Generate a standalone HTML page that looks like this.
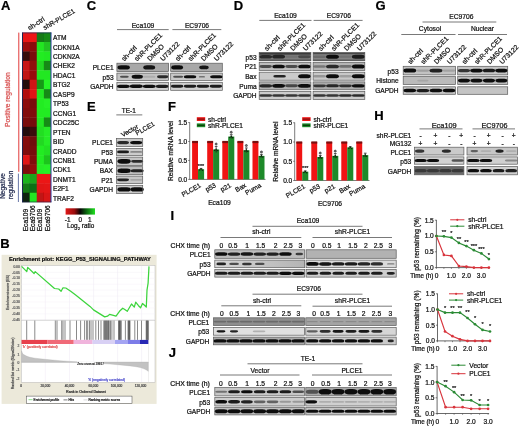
<!DOCTYPE html>
<html><head><meta charset="utf-8"><title>Figure</title>
<style>html,body{margin:0;padding:0;background:#fff;overflow:hidden}
svg{display:block}
svg text{font-family:"Liberation Sans",Arial,sans-serif;stroke-width:0.22px}</style></head>
<body>
<svg width="520" height="426" viewBox="0 0 520 426"><defs><filter id="bl" x="-50%" y="-50%" width="200%" height="200%"><feGaussianBlur stdDeviation="0.55"/></filter><filter id="hb" x="-10%" y="-10%" width="120%" height="120%"><feGaussianBlur stdDeviation="0.7"/></filter></defs><rect width="520" height="426" fill="#fff"/><text x="1" y="10.2" font-size="13" font-weight="bold" fill="#000" stroke="#000" stroke-width="0.15">A</text>
<text x="29.6" y="30.6" font-size="6.9" fill="#111" stroke="#111" stroke-width="0.22" transform="rotate(-33 29.6 30.6)">sh-ctrl</text>
<text x="44.8" y="30" font-size="6.7" fill="#111" stroke="#111" stroke-width="0.22" transform="rotate(-30 44.8 30)">shR-PLCE1</text>
<clipPath id="hc"><rect x="22.5" y="32.6" width="28.5" height="169.6"/></clipPath>
<g clip-path="url(#hc)"><g filter="url(#hb)">
<rect x="20.5" y="30.6" width="9.52" height="11.82" fill="#e81414"/>
<rect x="29.62" y="30.6" width="7.52" height="11.82" fill="#f01414"/>
<rect x="36.75" y="30.6" width="7.52" height="11.82" fill="#127a16"/>
<rect x="43.88" y="30.6" width="9.12" height="11.82" fill="#168a18"/>
<rect x="20.5" y="42.02" width="9.52" height="9.82" fill="#9a1010"/>
<rect x="29.62" y="42.02" width="7.52" height="9.82" fill="#8a0c0c"/>
<rect x="36.75" y="42.02" width="7.52" height="9.82" fill="#22e622"/>
<rect x="43.88" y="42.02" width="9.12" height="9.82" fill="#20c420"/>
<rect x="20.5" y="51.44" width="9.52" height="9.82" fill="#340a0e"/>
<rect x="29.62" y="51.44" width="7.52" height="9.82" fill="#7a0a0a"/>
<rect x="36.75" y="51.44" width="7.52" height="9.82" fill="#22ec22"/>
<rect x="43.88" y="51.44" width="9.12" height="9.82" fill="#24e824"/>
<rect x="20.5" y="60.87" width="9.52" height="9.82" fill="#c81414"/>
<rect x="29.62" y="60.87" width="7.52" height="9.82" fill="#900c0c"/>
<rect x="36.75" y="60.87" width="7.52" height="9.82" fill="#20d820"/>
<rect x="43.88" y="60.87" width="9.12" height="9.82" fill="#148a16"/>
<rect x="20.5" y="70.29" width="9.52" height="9.82" fill="#c01212"/>
<rect x="29.62" y="70.29" width="7.52" height="9.82" fill="#980c0c"/>
<rect x="36.75" y="70.29" width="7.52" height="9.82" fill="#24e824"/>
<rect x="43.88" y="70.29" width="9.12" height="9.82" fill="#24e824"/>
<rect x="20.5" y="79.71" width="9.52" height="9.82" fill="#240808"/>
<rect x="29.62" y="79.71" width="7.52" height="9.82" fill="#d01414"/>
<rect x="36.75" y="79.71" width="7.52" height="9.82" fill="#149a18"/>
<rect x="43.88" y="79.71" width="9.12" height="9.82" fill="#28f428"/>
<rect x="20.5" y="89.13" width="9.52" height="9.82" fill="#b01010"/>
<rect x="29.62" y="89.13" width="7.52" height="9.82" fill="#e01616"/>
<rect x="36.75" y="89.13" width="7.52" height="9.82" fill="#24e824"/>
<rect x="43.88" y="89.13" width="9.12" height="9.82" fill="#128a16"/>
<rect x="20.5" y="98.56" width="9.52" height="9.82" fill="#8c0c0c"/>
<rect x="29.62" y="98.56" width="7.52" height="9.82" fill="#7a0a0a"/>
<rect x="36.75" y="98.56" width="7.52" height="9.82" fill="#22ec22"/>
<rect x="43.88" y="98.56" width="9.12" height="9.82" fill="#26f026"/>
<rect x="20.5" y="107.98" width="9.52" height="9.82" fill="#820c0c"/>
<rect x="29.62" y="107.98" width="7.52" height="9.82" fill="#800c0c"/>
<rect x="36.75" y="107.98" width="7.52" height="9.82" fill="#22ec22"/>
<rect x="43.88" y="107.98" width="9.12" height="9.82" fill="#22ec22"/>
<rect x="20.5" y="117.4" width="9.52" height="9.82" fill="#7a0a0a"/>
<rect x="29.62" y="117.4" width="7.52" height="9.82" fill="#760a0a"/>
<rect x="36.75" y="117.4" width="7.52" height="9.82" fill="#22e622"/>
<rect x="43.88" y="117.4" width="9.12" height="9.82" fill="#148c16"/>
<rect x="20.5" y="126.82" width="9.52" height="9.82" fill="#220808"/>
<rect x="29.62" y="126.82" width="7.52" height="9.82" fill="#3a0a0a"/>
<rect x="36.75" y="126.82" width="7.52" height="9.82" fill="#22de22"/>
<rect x="43.88" y="126.82" width="9.12" height="9.82" fill="#26ec26"/>
<rect x="20.5" y="136.24" width="9.52" height="9.82" fill="#840c0c"/>
<rect x="29.62" y="136.24" width="7.52" height="9.82" fill="#700a0a"/>
<rect x="36.75" y="136.24" width="7.52" height="9.82" fill="#20d820"/>
<rect x="43.88" y="136.24" width="9.12" height="9.82" fill="#26ec26"/>
<rect x="20.5" y="145.67" width="9.52" height="9.82" fill="#800c0c"/>
<rect x="29.62" y="145.67" width="7.52" height="9.82" fill="#780a0a"/>
<rect x="36.75" y="145.67" width="7.52" height="9.82" fill="#22ec22"/>
<rect x="43.88" y="145.67" width="9.12" height="9.82" fill="#22e022"/>
<rect x="20.5" y="155.09" width="9.52" height="9.82" fill="#e01818"/>
<rect x="29.62" y="155.09" width="7.52" height="9.82" fill="#820c0c"/>
<rect x="36.75" y="155.09" width="7.52" height="9.82" fill="#22ec22"/>
<rect x="43.88" y="155.09" width="9.12" height="9.82" fill="#1ec41e"/>
<rect x="20.5" y="164.51" width="9.52" height="9.82" fill="#800c0c"/>
<rect x="29.62" y="164.51" width="7.52" height="9.82" fill="#940c0c"/>
<rect x="36.75" y="164.51" width="7.52" height="9.82" fill="#26ec26"/>
<rect x="43.88" y="164.51" width="9.12" height="9.82" fill="#26f026"/>
<rect x="20.5" y="173.93" width="9.52" height="9.82" fill="#1eb41e"/>
<rect x="29.62" y="173.93" width="7.52" height="9.82" fill="#1aa41a"/>
<rect x="36.75" y="173.93" width="7.52" height="9.82" fill="#ec1414"/>
<rect x="43.88" y="173.93" width="9.12" height="9.82" fill="#ec1414"/>
<rect x="20.5" y="183.36" width="9.52" height="9.82" fill="#127a14"/>
<rect x="29.62" y="183.36" width="7.52" height="9.82" fill="#107014"/>
<rect x="36.75" y="183.36" width="7.52" height="9.82" fill="#e01414"/>
<rect x="43.88" y="183.36" width="9.12" height="9.82" fill="#e41414"/>
<rect x="20.5" y="192.78" width="9.52" height="11.42" fill="#0c200c"/>
<rect x="29.62" y="192.78" width="7.52" height="11.42" fill="#22e622"/>
<rect x="36.75" y="192.78" width="7.52" height="11.42" fill="#c01212"/>
<rect x="43.88" y="192.78" width="9.12" height="11.42" fill="#d81414"/>
</g></g>
<text x="53" y="40.15" font-size="6.6" fill="#111" stroke="#111" stroke-width="0.22">ATM</text>
<text x="53" y="49.6" font-size="6.6" fill="#111" stroke="#111" stroke-width="0.22">CDKN1A</text>
<text x="53" y="59.04" font-size="6.6" fill="#111" stroke="#111" stroke-width="0.22">CDKN2A</text>
<text x="53" y="68.49" font-size="6.6" fill="#111" stroke="#111" stroke-width="0.22">CHEK2</text>
<text x="53" y="77.94" font-size="6.6" fill="#111" stroke="#111" stroke-width="0.22">HDAC1</text>
<text x="53" y="87.38" font-size="6.6" fill="#111" stroke="#111" stroke-width="0.22">BTG2</text>
<text x="53" y="96.83" font-size="6.6" fill="#111" stroke="#111" stroke-width="0.22">CASP9</text>
<text x="53" y="106.28" font-size="6.6" fill="#111" stroke="#111" stroke-width="0.22">TP53</text>
<text x="53" y="115.73" font-size="6.6" fill="#111" stroke="#111" stroke-width="0.22">CCNG1</text>
<text x="53" y="125.17" font-size="6.6" fill="#111" stroke="#111" stroke-width="0.22">CDC25C</text>
<text x="53" y="134.62" font-size="6.6" fill="#111" stroke="#111" stroke-width="0.22">PTEN</text>
<text x="53" y="144.07" font-size="6.6" fill="#111" stroke="#111" stroke-width="0.22">BID</text>
<text x="53" y="153.51" font-size="6.6" fill="#111" stroke="#111" stroke-width="0.22">CRADD</text>
<text x="53" y="162.96" font-size="6.6" fill="#111" stroke="#111" stroke-width="0.22">CCNB1</text>
<text x="53" y="172.41" font-size="6.6" fill="#111" stroke="#111" stroke-width="0.22">CDK1</text>
<text x="53" y="181.85" font-size="6.6" fill="#111" stroke="#111" stroke-width="0.22">DNMT1</text>
<text x="53" y="191.3" font-size="6.6" fill="#111" stroke="#111" stroke-width="0.22">E2F1</text>
<text x="53" y="200.75" font-size="6.6" fill="#111" stroke="#111" stroke-width="0.22">TRAF2</text>
<line x1="22.5" y1="32.6" x2="22.5" y2="202.2" stroke="#1c2450" stroke-width="1"/>
<line x1="22" y1="32.9" x2="51.5" y2="32.9" stroke="#1c2a60" stroke-width="0.7"/>
<line x1="51" y1="32.6" x2="51" y2="202.2" stroke="#24389a" stroke-width="1"/>
<line x1="22" y1="202" x2="51.5" y2="202" stroke="#1c2450" stroke-width="0.6"/>
<line x1="18.8" y1="32.6" x2="18.8" y2="171.8" stroke="#e23a3a" stroke-width="1"/>
<line x1="18.4" y1="173.6" x2="18.4" y2="202" stroke="#6a78a8" stroke-width="1"/>
<text x="9.6" y="99.6" font-size="6.7" text-anchor="middle" fill="#d85252" stroke="#d85252" stroke-width="0.1" transform="rotate(-90 9.6 99.6)">Positive regulation</text>
<text x="5.4" y="186" font-size="6.5" text-anchor="middle" fill="#232c50" stroke="#232c50" stroke-width="0.12" transform="rotate(-90 5.4 186)">Negative</text>
<text x="13" y="185" font-size="6.5" text-anchor="middle" fill="#232c50" stroke="#232c50" stroke-width="0.12" transform="rotate(-90 13 185)">regulation</text>
<text x="27.8" y="231.3" font-size="6.6" fill="#111" stroke="#111" stroke-width="0.22" transform="rotate(-90 27.8 231.3)">Eca109</text>
<text x="35.1" y="231.3" font-size="6.6" fill="#111" stroke="#111" stroke-width="0.22" transform="rotate(-90 35.1 231.3)">Eca9706</text>
<text x="41.8" y="231.3" font-size="6.6" fill="#111" stroke="#111" stroke-width="0.22" transform="rotate(-90 41.8 231.3)">Eca109</text>
<text x="49.9" y="231.3" font-size="6.6" fill="#111" stroke="#111" stroke-width="0.22" transform="rotate(-90 49.9 231.3)">Eca9706</text>
<linearGradient id="lg"><stop offset="0" stop-color="#e01818"/><stop offset="0.3" stop-color="#9a0c0c"/><stop offset="0.5" stop-color="#050505"/><stop offset="0.72" stop-color="#0c6a10"/><stop offset="1" stop-color="#20e020"/></linearGradient>
<rect x="65.6" y="208.3" width="29.4" height="6.3" fill="url(#lg)"/>
<text x="67.6" y="221.6" font-size="6.4" text-anchor="middle" fill="#111" stroke="#111" stroke-width="0.22">-1</text>
<text x="80.3" y="221.6" font-size="6.4" text-anchor="middle" fill="#111" stroke="#111" stroke-width="0.22">0</text>
<text x="89.8" y="221.6" font-size="6.4" text-anchor="middle" fill="#111" stroke="#111" stroke-width="0.22">1</text>
<text x="67" y="228" font-size="6.4" fill="#111" stroke="#111" stroke-width="0.22">Log<tspan font-size="4.2" dy="1.6">2</tspan><tspan dy="-1.6"> ratio</tspan></text>
<text x="0.2" y="247.9" font-size="13" font-weight="bold" fill="#000" stroke="#000" stroke-width="0.15">B</text>
<rect x="1.6" y="254.8" width="155" height="149.1" fill="#ece9da"/>
<text x="8.9" y="260.7" font-size="5.8" font-weight="bold" fill="#111" stroke="#111" stroke-width="0.1" textLength="142" lengthAdjust="spacingAndGlyphs">Enrichment plot: KEGG_P53_SIGNALING_PATHWAY</text>
<rect x="21.3" y="265.5" width="133.7" height="116.8" fill="#ffffff" stroke="#b8b8b8" stroke-width="0.5"/>
<line x1="45.3" y1="265.8" x2="45.3" y2="320" stroke="#eee8f4" stroke-width="0.5"/>
<line x1="45.3" y1="344" x2="45.3" y2="382" stroke="#eee8f4" stroke-width="0.5"/>
<line x1="69.5" y1="265.8" x2="69.5" y2="320" stroke="#eee8f4" stroke-width="0.5"/>
<line x1="69.5" y1="344" x2="69.5" y2="382" stroke="#eee8f4" stroke-width="0.5"/>
<line x1="93.6" y1="265.8" x2="93.6" y2="320" stroke="#eee8f4" stroke-width="0.5"/>
<line x1="93.6" y1="344" x2="93.6" y2="382" stroke="#eee8f4" stroke-width="0.5"/>
<line x1="117.6" y1="265.8" x2="117.6" y2="320" stroke="#eee8f4" stroke-width="0.5"/>
<line x1="117.6" y1="344" x2="117.6" y2="382" stroke="#eee8f4" stroke-width="0.5"/>
<line x1="141.6" y1="265.8" x2="141.6" y2="320" stroke="#eee8f4" stroke-width="0.5"/>
<line x1="141.6" y1="344" x2="141.6" y2="382" stroke="#eee8f4" stroke-width="0.5"/>
<line x1="21.3" y1="272.33" x2="155" y2="272.33" stroke="#f3eef6" stroke-width="0.4"/>
<line x1="21.3" y1="278.26" x2="155" y2="278.26" stroke="#f3eef6" stroke-width="0.4"/>
<line x1="21.3" y1="284.19" x2="155" y2="284.19" stroke="#f3eef6" stroke-width="0.4"/>
<line x1="21.3" y1="290.12" x2="155" y2="290.12" stroke="#f3eef6" stroke-width="0.4"/>
<line x1="21.3" y1="296.05" x2="155" y2="296.05" stroke="#f3eef6" stroke-width="0.4"/>
<line x1="21.3" y1="301.98" x2="155" y2="301.98" stroke="#f3eef6" stroke-width="0.4"/>
<line x1="21.3" y1="307.91" x2="155" y2="307.91" stroke="#f3eef6" stroke-width="0.4"/>
<line x1="21.3" y1="313.84" x2="155" y2="313.84" stroke="#f3eef6" stroke-width="0.4"/>
<line x1="21.3" y1="319.77" x2="155" y2="319.77" stroke="#f3eef6" stroke-width="0.4"/>
<line x1="21.3" y1="320.3" x2="155" y2="320.3" stroke="#b0b0b0" stroke-width="0.5"/>
<line x1="148.5" y1="320.3" x2="148.5" y2="382.3" stroke="#d8d8d8" stroke-width="0.4"/>
<text x="19.8" y="267.6" font-size="3.3" text-anchor="end" fill="#666" stroke="#666" stroke-width="0">0.00</text>
<text x="19.8" y="273.53" font-size="3.3" text-anchor="end" fill="#666" stroke="#666" stroke-width="0">-0.05</text>
<text x="19.8" y="279.46" font-size="3.3" text-anchor="end" fill="#666" stroke="#666" stroke-width="0">-0.10</text>
<text x="19.8" y="285.39" font-size="3.3" text-anchor="end" fill="#666" stroke="#666" stroke-width="0">-0.15</text>
<text x="19.8" y="291.32" font-size="3.3" text-anchor="end" fill="#666" stroke="#666" stroke-width="0">-0.20</text>
<text x="19.8" y="297.25" font-size="3.3" text-anchor="end" fill="#666" stroke="#666" stroke-width="0">-0.25</text>
<text x="19.8" y="303.18" font-size="3.3" text-anchor="end" fill="#666" stroke="#666" stroke-width="0">-0.30</text>
<text x="19.8" y="309.11" font-size="3.3" text-anchor="end" fill="#666" stroke="#666" stroke-width="0">-0.35</text>
<text x="19.8" y="315.04" font-size="3.3" text-anchor="end" fill="#666" stroke="#666" stroke-width="0">-0.40</text>
<text x="19.8" y="320.97" font-size="3.3" text-anchor="end" fill="#666" stroke="#666" stroke-width="0">-0.45</text>
<text x="8.8" y="292.5" font-size="3.5" text-anchor="middle" fill="#555" stroke="#555" stroke-width="0" transform="rotate(-90 8.8 292.5)">Enrichment score (ES)</text>
<polyline points="21.6,266.4 26.8,271.6 27.7,267.4 34.1,273.5 35.2,271.6 54.5,288.5 58.7,289 61.1,291.3 63,287.8 65.8,288 70.7,291.3 76.3,295.5 90,306.4 93.5,309.9 104.7,316.9 107.5,316.2 109.6,314.4 112.5,315.2 116,316.2 119.5,311.3 122.7,308.2 124.4,309.2 127.3,311.3 131.5,304 134.3,307.1 135.7,302.1 138.5,305.7 140.6,307.8 142.5,303.5 144.2,305 146.3,307 147,290.2 148.1,283.1 149,266.4" fill="none" stroke="#3cd43c" stroke-width="1.25" stroke-linejoin="round"/>
<line x1="26.7" y1="320.6" x2="26.7" y2="339.9" stroke="#3a3a3a" stroke-width="0.6"/>
<line x1="34.8" y1="320.6" x2="34.8" y2="339.9" stroke="#3a3a3a" stroke-width="0.6"/>
<line x1="55.3" y1="320.6" x2="55.3" y2="339.9" stroke="#3a3a3a" stroke-width="0.6"/>
<line x1="57" y1="320.6" x2="57" y2="339.9" stroke="#3a3a3a" stroke-width="0.6"/>
<line x1="61.7" y1="320.6" x2="61.7" y2="339.9" stroke="#3a3a3a" stroke-width="0.6"/>
<line x1="63" y1="320.6" x2="63" y2="339.9" stroke="#3a3a3a" stroke-width="0.6"/>
<line x1="65" y1="320.6" x2="65" y2="339.9" stroke="#3a3a3a" stroke-width="0.6"/>
<line x1="70" y1="320.6" x2="70" y2="339.9" stroke="#3a3a3a" stroke-width="0.6"/>
<line x1="76.5" y1="320.6" x2="76.5" y2="339.9" stroke="#3a3a3a" stroke-width="0.6"/>
<line x1="80.6" y1="320.6" x2="80.6" y2="339.9" stroke="#3a3a3a" stroke-width="0.6"/>
<line x1="84.6" y1="320.6" x2="84.6" y2="339.9" stroke="#3a3a3a" stroke-width="0.6"/>
<line x1="86.6" y1="320.6" x2="86.6" y2="339.9" stroke="#3a3a3a" stroke-width="0.6"/>
<line x1="87.7" y1="320.6" x2="87.7" y2="339.9" stroke="#3a3a3a" stroke-width="0.6"/>
<line x1="91" y1="320.6" x2="91" y2="339.9" stroke="#3a3a3a" stroke-width="0.6"/>
<line x1="93" y1="320.6" x2="93" y2="339.9" stroke="#3a3a3a" stroke-width="0.6"/>
<line x1="95.8" y1="320.6" x2="95.8" y2="339.9" stroke="#3a3a3a" stroke-width="0.6"/>
<line x1="98.5" y1="320.6" x2="98.5" y2="339.9" stroke="#3a3a3a" stroke-width="0.6"/>
<line x1="101" y1="320.6" x2="101" y2="339.9" stroke="#3a3a3a" stroke-width="0.6"/>
<line x1="103.8" y1="320.6" x2="103.8" y2="339.9" stroke="#3a3a3a" stroke-width="0.6"/>
<line x1="105.9" y1="320.6" x2="105.9" y2="339.9" stroke="#3a3a3a" stroke-width="0.6"/>
<line x1="106.6" y1="320.6" x2="106.6" y2="339.9" stroke="#3a3a3a" stroke-width="0.6"/>
<line x1="107.3" y1="320.6" x2="107.3" y2="339.9" stroke="#3a3a3a" stroke-width="0.6"/>
<line x1="108" y1="320.6" x2="108" y2="339.9" stroke="#3a3a3a" stroke-width="0.6"/>
<line x1="108.6" y1="320.6" x2="108.6" y2="339.9" stroke="#3a3a3a" stroke-width="0.6"/>
<line x1="109.2" y1="320.6" x2="109.2" y2="339.9" stroke="#3a3a3a" stroke-width="0.6"/>
<line x1="111.9" y1="320.6" x2="111.9" y2="339.9" stroke="#3a3a3a" stroke-width="0.6"/>
<line x1="114" y1="320.6" x2="114" y2="339.9" stroke="#3a3a3a" stroke-width="0.6"/>
<line x1="118.6" y1="320.6" x2="118.6" y2="339.9" stroke="#3a3a3a" stroke-width="0.6"/>
<line x1="119.5" y1="320.6" x2="119.5" y2="339.9" stroke="#3a3a3a" stroke-width="0.6"/>
<line x1="120.4" y1="320.6" x2="120.4" y2="339.9" stroke="#3a3a3a" stroke-width="0.6"/>
<line x1="121.3" y1="320.6" x2="121.3" y2="339.9" stroke="#3a3a3a" stroke-width="0.6"/>
<line x1="125.4" y1="320.6" x2="125.4" y2="339.9" stroke="#3a3a3a" stroke-width="0.6"/>
<line x1="128" y1="320.6" x2="128" y2="339.9" stroke="#3a3a3a" stroke-width="0.6"/>
<line x1="129" y1="320.6" x2="129" y2="339.9" stroke="#3a3a3a" stroke-width="0.6"/>
<line x1="130" y1="320.6" x2="130" y2="339.9" stroke="#3a3a3a" stroke-width="0.6"/>
<line x1="134.8" y1="320.6" x2="134.8" y2="339.9" stroke="#3a3a3a" stroke-width="0.6"/>
<line x1="137.5" y1="320.6" x2="137.5" y2="339.9" stroke="#3a3a3a" stroke-width="0.6"/>
<line x1="141.5" y1="320.6" x2="141.5" y2="339.9" stroke="#3a3a3a" stroke-width="0.6"/>
<line x1="146.2" y1="320.6" x2="146.2" y2="339.9" stroke="#3a3a3a" stroke-width="0.6"/>
<line x1="147.2" y1="320.6" x2="147.2" y2="339.9" stroke="#3a3a3a" stroke-width="0.6"/>
<line x1="148.3" y1="320.6" x2="148.3" y2="339.9" stroke="#3a3a3a" stroke-width="0.6"/>
<line x1="104.6" y1="320.6" x2="104.6" y2="339.9" stroke="#3a3a3a" stroke-width="0.6"/>
<line x1="105.3" y1="320.6" x2="105.3" y2="339.9" stroke="#3a3a3a" stroke-width="0.6"/>
<line x1="110.5" y1="320.6" x2="110.5" y2="339.9" stroke="#3a3a3a" stroke-width="0.6"/>
<line x1="119" y1="320.6" x2="119" y2="339.9" stroke="#3a3a3a" stroke-width="0.6"/>
<line x1="120" y1="320.6" x2="120" y2="339.9" stroke="#3a3a3a" stroke-width="0.6"/>
<line x1="128.6" y1="320.6" x2="128.6" y2="339.9" stroke="#3a3a3a" stroke-width="0.6"/>
<line x1="129.5" y1="320.6" x2="129.5" y2="339.9" stroke="#3a3a3a" stroke-width="0.6"/>
<line x1="146.7" y1="320.6" x2="146.7" y2="339.9" stroke="#3a3a3a" stroke-width="0.6"/>
<line x1="147.7" y1="320.6" x2="147.7" y2="339.9" stroke="#3a3a3a" stroke-width="0.6"/>
<line x1="89.5" y1="320.6" x2="89.5" y2="339.9" stroke="#3a3a3a" stroke-width="0.6"/>
<rect x="21.5" y="339.9" width="26.05" height="4.1" fill="#e8404c"/>
<rect x="47.5" y="339.9" width="26.25" height="4.1" fill="#f06a78"/>
<rect x="73.7" y="339.9" width="18.85" height="4.1" fill="#f0b4dc"/>
<rect x="92.5" y="339.9" width="22.55" height="4.1" fill="#d8d0f4"/>
<rect x="115" y="339.9" width="13.05" height="4.1" fill="#a4a4f2"/>
<rect x="128" y="339.9" width="12.05" height="4.1" fill="#7c7ce8"/>
<rect x="140" y="339.9" width="8.35" height="4.1" fill="#2828b4"/>
<text x="22.7" y="348.2" font-size="3.2" fill="#e05858" stroke="#e05858" stroke-width="0" textLength="35" lengthAdjust="spacingAndGlyphs">'h' (positively correlated)</text>
<polygon points="21.5,362.3 21.5,350.8 22.5,353.3 24,354.8 27,356.3 30,357.3 35,358.2 40,358.8 50,359.8 60,360.7 70,361.4 80,362.1 90,362.8 100,363.4 110,364.1 120,364.9 130,365.9 136,366.7 140,367.5 144,368.8 146.5,370.1 148.3,371.3 148.3,362.3" fill="#c2c2c2" stroke="#aaaaaa" stroke-width="0.3"/>
<line x1="21.5" y1="362.3" x2="148.3" y2="362.3" stroke="#aaa" stroke-width="0.4"/>
<text x="19.3" y="347.4" font-size="3.3" text-anchor="end" fill="#666" stroke="#666" stroke-width="0">2</text>
<text x="19.3" y="355.8" font-size="3.3" text-anchor="end" fill="#666" stroke="#666" stroke-width="0">1</text>
<text x="19.3" y="363.5" font-size="3.3" text-anchor="end" fill="#666" stroke="#666" stroke-width="0">0</text>
<text x="19.3" y="371.2" font-size="3.3" text-anchor="end" fill="#666" stroke="#666" stroke-width="0">-1</text>
<text x="19.3" y="379.7" font-size="3.3" text-anchor="end" fill="#666" stroke="#666" stroke-width="0">-2</text>
<text x="13.6" y="363.5" font-size="3.5" text-anchor="middle" fill="#555" stroke="#555" stroke-width="0" transform="rotate(-90 13.6 363.5)">Ranked list metric (Signal2Noise)</text>
<rect x="77" y="361.4" width="27" height="4" fill="#ffffff"/>
<text x="77.3" y="364.6" font-size="3.2" fill="#333" stroke="#333" stroke-width="0" textLength="26.5" lengthAdjust="spacingAndGlyphs">Zero cross at 19917</text>
<text x="88" y="381.4" font-size="3.2" fill="#5858d0" stroke="#5858d0" stroke-width="0" textLength="37" lengthAdjust="spacingAndGlyphs">'h' (negatively correlated)</text>
<text x="21.1" y="387" font-size="3.2" text-anchor="middle" fill="#555" stroke="#555" stroke-width="0">0</text>
<text x="45.3" y="387" font-size="3.2" text-anchor="middle" fill="#555" stroke="#555" stroke-width="0">20,000</text>
<text x="69.5" y="387" font-size="3.2" text-anchor="middle" fill="#555" stroke="#555" stroke-width="0">40,000</text>
<text x="93.3" y="387" font-size="3.2" text-anchor="middle" fill="#555" stroke="#555" stroke-width="0">60,000</text>
<text x="116.5" y="387" font-size="3.2" text-anchor="middle" fill="#555" stroke="#555" stroke-width="0">100,000</text>
<text x="140.6" y="387" font-size="3.2" text-anchor="middle" fill="#555" stroke="#555" stroke-width="0">120,000</text>
<text x="86" y="392.6" font-size="3.6" text-anchor="middle" fill="#333" stroke="#333" stroke-width="0.03">Rank in Ordered Dataset</text>
<rect x="26.4" y="396.1" width="105.6" height="7.2" fill="#ffffff" stroke="#444" stroke-width="0.5"/>
<line x1="28.5" y1="399.7" x2="32.5" y2="399.7" stroke="#3ad23a" stroke-width="0.6"/>
<text x="33.5" y="401" font-size="3.2" fill="#222" stroke="#222" stroke-width="0.06">Enrichment profile</text>
<line x1="63.5" y1="399.9" x2="67.5" y2="399.9" stroke="#222" stroke-width="0.6"/>
<text x="68.5" y="401.1" font-size="3.2" fill="#222" stroke="#222" stroke-width="0.06">Hits</text>
<line x1="83.5" y1="399.9" x2="87.5" y2="399.9" stroke="#bbb" stroke-width="0.6"/>
<text x="88.5" y="401.1" font-size="3.2" fill="#222" stroke="#222" stroke-width="0.06">Ranking metric scores</text>
<text x="86.75" y="10.2" font-size="13" font-weight="bold" fill="#000" stroke="#000" stroke-width="0.15">C</text>
<text x="143" y="27.7" font-size="6.7" text-anchor="middle" fill="#111" stroke="#111" stroke-width="0.22">Eca109</text>
<text x="197" y="27.7" font-size="6.7" text-anchor="middle" fill="#111" stroke="#111" stroke-width="0.22">EC9706</text>
<line x1="117" y1="29.6" x2="168.7" y2="29.6" stroke="#6a6a6a" stroke-width="0.9"/>
<line x1="172.4" y1="29.6" x2="221.3" y2="29.6" stroke="#6a6a6a" stroke-width="0.9"/>
<text x="124.16" y="61.6" font-size="6.9" fill="#111" stroke="#111" stroke-width="0.22" transform="rotate(-45 124.16 61.6)">sh-ctrl</text>
<text x="137.09" y="61.6" font-size="6.9" fill="#111" stroke="#111" stroke-width="0.22" transform="rotate(-45 137.09 61.6)">shR-PLCE1</text>
<text x="150.01" y="61.6" font-size="6.9" fill="#111" stroke="#111" stroke-width="0.22" transform="rotate(-45 150.01 61.6)">DMSO</text>
<text x="162.94" y="61.6" font-size="6.9" fill="#111" stroke="#111" stroke-width="0.22" transform="rotate(-45 162.94 61.6)">U73122</text>
<text x="177.95" y="61.6" font-size="6.9" fill="#111" stroke="#111" stroke-width="0.22" transform="rotate(-45 177.95 61.6)">sh-ctrl</text>
<text x="190.85" y="61.6" font-size="6.9" fill="#111" stroke="#111" stroke-width="0.22" transform="rotate(-45 190.85 61.6)">shR-PLCE1</text>
<text x="203.75" y="61.6" font-size="6.9" fill="#111" stroke="#111" stroke-width="0.22" transform="rotate(-45 203.75 61.6)">DMSO</text>
<text x="216.65" y="61.6" font-size="6.9" fill="#111" stroke="#111" stroke-width="0.22" transform="rotate(-45 216.65 61.6)">U73122</text>
<text x="113.6" y="70.35" font-size="6.6" text-anchor="end" fill="#111" stroke="#111" stroke-width="0.22">PLCE1</text>
<text x="113.6" y="79.7" font-size="6.6" text-anchor="end" fill="#111" stroke="#111" stroke-width="0.22">p53</text>
<text x="113.6" y="89.25" font-size="6.6" text-anchor="end" fill="#111" stroke="#111" stroke-width="0.22">GAPDH</text>
<rect x="116.9" y="63.2" width="51.7" height="8.4" fill="#a8a8a8"/>
<g filter="url(#bl)">
<rect x="117.43" y="65.31" width="12.46" height="4.18" rx="3.76" ry="2.09" fill="#111111"/>
<rect x="143.28" y="65.34" width="11.87" height="4.11" rx="3.7" ry="2.06" fill="#151515"/>
</g>
<rect x="116.9" y="63.2" width="51.7" height="8.4" fill="none" stroke="#5a5a5a" stroke-width="0.7"/>
<rect x="116.9" y="73.1" width="51.7" height="7.3" fill="#c4c4c4"/>
<g filter="url(#bl)">
<rect x="119.97" y="75.66" width="8.79" height="2.18" rx="1.97" ry="1.09" fill="#4e4e4e"/>
<rect x="131.63" y="74.79" width="11.31" height="3.92" rx="3.53" ry="1.96" fill="#0e0e0e"/>
<rect x="142.93" y="75.85" width="12.56" height="1.79" rx="1.61" ry="0.9" fill="#adadad"/>
<rect x="156.98" y="75.37" width="11.31" height="2.76" rx="2.49" ry="1.38" fill="#2b2b2b"/>
</g>
<rect x="116.9" y="73.1" width="51.7" height="7.3" fill="none" stroke="#5a5a5a" stroke-width="0.7"/>
<rect x="116.9" y="82.3" width="51.7" height="8" fill="#cfcfcf"/>
<g filter="url(#bl)">
<rect x="116.9" y="84.64" width="12.92" height="3.31" rx="2.98" ry="1.66" fill="#111111"/>
<rect x="129.82" y="84.62" width="12.92" height="3.37" rx="3.03" ry="1.68" fill="#0e0e0e"/>
<rect x="142.75" y="84.64" width="12.92" height="3.31" rx="2.98" ry="1.66" fill="#111111"/>
<rect x="155.67" y="84.69" width="12.92" height="3.23" rx="2.91" ry="1.61" fill="#1b1b1b"/>
</g>
<rect x="116.9" y="82.3" width="51.7" height="8" fill="none" stroke="#5a5a5a" stroke-width="0.7"/>
<rect x="170.7" y="63.2" width="51.6" height="8.4" fill="#a8a8a8"/>
<g filter="url(#bl)">
<rect x="171.23" y="65.31" width="11.84" height="4.18" rx="3.76" ry="2.09" fill="#111111"/>
<rect x="199.21" y="65.57" width="9.47" height="3.66" rx="3.3" ry="1.83" fill="#181818"/>
</g>
<rect x="170.7" y="63.2" width="51.6" height="8.4" fill="none" stroke="#5a5a5a" stroke-width="0.7"/>
<rect x="170.7" y="73.1" width="51.6" height="7.3" fill="#c8c8c8"/>
<g filter="url(#bl)">
<rect x="173.13" y="75.76" width="10.03" height="1.99" rx="1.79" ry="0.99" fill="#4f4f4f"/>
<rect x="183.78" y="75.21" width="12.54" height="3.07" rx="2.76" ry="1.54" fill="#0e0e0e"/>
<rect x="198.82" y="75.88" width="6.27" height="1.74" rx="1.56" ry="0.87" fill="#727272"/>
<rect x="210.08" y="75.24" width="12.54" height="3.02" rx="2.72" ry="1.51" fill="#111111"/>
</g>
<rect x="170.7" y="73.1" width="51.6" height="7.3" fill="none" stroke="#5a5a5a" stroke-width="0.7"/>
<rect x="170.7" y="82.3" width="51.6" height="8" fill="#d0d0d0"/>
<g filter="url(#bl)">
<rect x="170.88" y="84.85" width="12.54" height="2.91" rx="2.62" ry="1.45" fill="#1b1b1b"/>
<rect x="183.78" y="84.85" width="12.54" height="2.91" rx="2.62" ry="1.45" fill="#1b1b1b"/>
<rect x="196.68" y="84.85" width="12.54" height="2.91" rx="2.62" ry="1.45" fill="#1b1b1b"/>
<rect x="209.58" y="84.85" width="12.54" height="2.91" rx="2.62" ry="1.45" fill="#1b1b1b"/>
</g>
<rect x="170.7" y="82.3" width="51.6" height="8" fill="none" stroke="#5a5a5a" stroke-width="0.7"/>
<text x="233.85" y="10.2" font-size="13" font-weight="bold" fill="#000" stroke="#000" stroke-width="0.15">D</text>
<text x="285.5" y="18.4" font-size="6.7" text-anchor="middle" fill="#111" stroke="#111" stroke-width="0.22">Eca109</text>
<text x="338.8" y="18.4" font-size="6.7" text-anchor="middle" fill="#111" stroke="#111" stroke-width="0.22">EC9706</text>
<line x1="259.3" y1="20.4" x2="311.5" y2="20.4" stroke="#6a6a6a" stroke-width="0.9"/>
<line x1="313.6" y1="20.4" x2="362.6" y2="20.4" stroke="#6a6a6a" stroke-width="0.9"/>
<text x="267.06" y="51.3" font-size="6.9" fill="#111" stroke="#111" stroke-width="0.22" transform="rotate(-45 267.06 51.3)">sh-ctrl</text>
<text x="279.99" y="51.3" font-size="6.9" fill="#111" stroke="#111" stroke-width="0.22" transform="rotate(-45 279.99 51.3)">shR-PLCE1</text>
<text x="292.91" y="51.3" font-size="6.9" fill="#111" stroke="#111" stroke-width="0.22" transform="rotate(-45 292.91 51.3)">DMSO</text>
<text x="305.84" y="51.3" font-size="6.9" fill="#111" stroke="#111" stroke-width="0.22" transform="rotate(-45 305.84 51.3)">U73122</text>
<text x="320.96" y="51.3" font-size="6.9" fill="#111" stroke="#111" stroke-width="0.22" transform="rotate(-45 320.96 51.3)">sh-ctrl</text>
<text x="333.89" y="51.3" font-size="6.9" fill="#111" stroke="#111" stroke-width="0.22" transform="rotate(-45 333.89 51.3)">shR-PLCE1</text>
<text x="346.81" y="51.3" font-size="6.9" fill="#111" stroke="#111" stroke-width="0.22" transform="rotate(-45 346.81 51.3)">DMSO</text>
<text x="359.74" y="51.3" font-size="6.9" fill="#111" stroke="#111" stroke-width="0.22" transform="rotate(-45 359.74 51.3)">U73122</text>
<text x="256.6" y="59.55" font-size="6.6" text-anchor="end" fill="#111" stroke="#111" stroke-width="0.22">p53</text>
<text x="256.6" y="69.35" font-size="6.6" text-anchor="end" fill="#111" stroke="#111" stroke-width="0.22">P21</text>
<text x="256.6" y="79.05" font-size="6.6" text-anchor="end" fill="#111" stroke="#111" stroke-width="0.22">Bax</text>
<text x="256.6" y="88.7" font-size="6.6" text-anchor="end" fill="#111" stroke="#111" stroke-width="0.22">Puma</text>
<text x="256.6" y="98.3" font-size="6.6" text-anchor="end" fill="#111" stroke="#111" stroke-width="0.22">GAPDH</text>
<rect x="259.2" y="52.6" width="51.7" height="8.2" fill="#7e7e7e"/>
<g filter="url(#bl)">
<rect x="259.2" y="52.6" width="51.7" height="2.05" fill="#3a3a3a"/>
<rect x="259.2" y="59.57" width="51.7" height="1.23" fill="#4a4a4a"/>
<rect x="259.2" y="54.92" width="12.92" height="3.55" rx="3.2" ry="1.78" fill="#2b2b2b"/>
<rect x="272.12" y="54.87" width="12.92" height="3.66" rx="3.29" ry="1.83" fill="#252525"/>
<rect x="285.05" y="55.6" width="12.92" height="2.2" rx="1.98" ry="1.1" fill="#707070"/>
<rect x="297.98" y="55.24" width="12.92" height="2.93" rx="2.63" ry="1.46" fill="#4a4a4a"/>
</g>
<rect x="259.2" y="52.6" width="51.7" height="8.2" fill="none" stroke="#5a5a5a" stroke-width="0.7"/>
<rect x="259.2" y="62.5" width="51.7" height="8" fill="#bcbcbc"/>
<g filter="url(#bl)">
<rect x="259.38" y="65" width="12.56" height="2.99" rx="2.69" ry="1.5" fill="#4b4b4b"/>
<rect x="272.31" y="64.63" width="12.56" height="3.74" rx="3.37" ry="1.87" fill="#0e0e0e"/>
<rect x="285.23" y="65" width="12.56" height="2.99" rx="2.69" ry="1.5" fill="#4b4b4b"/>
<rect x="298.16" y="64.63" width="12.56" height="3.74" rx="3.37" ry="1.87" fill="#0e0e0e"/>
</g>
<rect x="259.2" y="62.5" width="51.7" height="8" fill="none" stroke="#5a5a5a" stroke-width="0.7"/>
<rect x="259.2" y="72.2" width="51.7" height="8" fill="#cacaca"/>
<g filter="url(#bl)">
<rect x="273.31" y="74.88" width="12.56" height="2.64" rx="2.38" ry="1.32" fill="#232323"/>
<rect x="298.16" y="74.16" width="12.56" height="4.08" rx="3.67" ry="2.04" fill="#0e0e0e"/>
</g>
<rect x="259.2" y="72.2" width="51.7" height="8" fill="none" stroke="#5a5a5a" stroke-width="0.7"/>
<rect x="259.2" y="81.9" width="51.7" height="7.9" fill="#b0b0b0"/>
<g filter="url(#bl)">
<rect x="259.2" y="84.19" width="12.92" height="3.32" rx="2.99" ry="1.66" fill="#282828"/>
<rect x="272.12" y="84.05" width="12.92" height="3.6" rx="3.24" ry="1.8" fill="#111111"/>
<rect x="285.05" y="84.37" width="12.92" height="2.95" rx="2.66" ry="1.48" fill="#474747"/>
<rect x="297.98" y="84" width="12.92" height="3.69" rx="3.32" ry="1.85" fill="#0e0e0e"/>
</g>
<rect x="259.2" y="81.9" width="51.7" height="7.9" fill="none" stroke="#5a5a5a" stroke-width="0.7"/>
<rect x="259.2" y="91.4" width="51.7" height="8.1" fill="#cccccc"/>
<g filter="url(#bl)">
<rect x="259.2" y="94.18" width="12.92" height="2.53" rx="2.28" ry="1.27" fill="#353535"/>
<rect x="272.12" y="94.18" width="12.92" height="2.53" rx="2.28" ry="1.27" fill="#353535"/>
<rect x="285.05" y="94.18" width="12.92" height="2.53" rx="2.28" ry="1.27" fill="#353535"/>
<rect x="297.98" y="94.18" width="12.92" height="2.53" rx="2.28" ry="1.27" fill="#353535"/>
</g>
<rect x="259.2" y="91.4" width="51.7" height="8.1" fill="none" stroke="#5a5a5a" stroke-width="0.7"/>
<rect x="313.1" y="52.6" width="51.7" height="8.2" fill="#848484"/>
<g filter="url(#bl)">
<rect x="313.1" y="52.6" width="51.7" height="1.64" fill="#4a4a4a"/>
<rect x="313.1" y="59.57" width="51.7" height="1.23" fill="#555555"/>
<rect x="313.1" y="55.5" width="12.92" height="2.4" rx="2.16" ry="1.2" fill="#6a6a6a"/>
<rect x="326.03" y="54.66" width="12.92" height="4.08" rx="3.67" ry="2.04" fill="#101010"/>
<rect x="338.95" y="55.55" width="12.92" height="2.3" rx="2.07" ry="1.15" fill="#6f6f6f"/>
<rect x="351.88" y="54.77" width="12.92" height="3.87" rx="3.48" ry="1.93" fill="#1b1b1b"/>
</g>
<rect x="313.1" y="52.6" width="51.7" height="8.2" fill="none" stroke="#5a5a5a" stroke-width="0.7"/>
<rect x="313.1" y="62.5" width="51.7" height="8" fill="#b4b4b4"/>
<g filter="url(#bl)">
<rect x="313.1" y="65.17" width="12.92" height="2.65" rx="2.39" ry="1.33" fill="#777777"/>
<rect x="326.03" y="64.66" width="12.92" height="3.67" rx="3.3" ry="1.84" fill="#292929"/>
<rect x="338.95" y="65.12" width="12.92" height="2.75" rx="2.48" ry="1.38" fill="#707070"/>
<rect x="351.88" y="64.46" width="12.92" height="4.08" rx="3.67" ry="2.04" fill="#0e0e0e"/>
</g>
<rect x="313.1" y="62.5" width="51.7" height="8" fill="none" stroke="#5a5a5a" stroke-width="0.7"/>
<rect x="313.1" y="72.2" width="51.7" height="8" fill="#c8c8c8"/>
<g filter="url(#bl)">
<rect x="313.1" y="74.98" width="12.92" height="2.45" rx="2.2" ry="1.22" fill="#969696"/>
<rect x="326.03" y="74.16" width="12.92" height="4.08" rx="3.67" ry="2.04" fill="#0e0e0e"/>
<rect x="338.95" y="75.03" width="12.92" height="2.35" rx="2.11" ry="1.17" fill="#9f9f9f"/>
<rect x="351.88" y="74.16" width="12.92" height="4.08" rx="3.67" ry="2.04" fill="#0e0e0e"/>
</g>
<rect x="313.1" y="72.2" width="51.7" height="8" fill="none" stroke="#5a5a5a" stroke-width="0.7"/>
<rect x="313.1" y="81.9" width="51.7" height="7.9" fill="#aaaaaa"/>
<g filter="url(#bl)">
<rect x="313.1" y="84.42" width="12.92" height="2.85" rx="2.57" ry="1.43" fill="#363636"/>
<rect x="326.03" y="84.34" width="12.92" height="3.02" rx="2.72" ry="1.51" fill="#272727"/>
<rect x="338.95" y="84.38" width="12.92" height="2.94" rx="2.64" ry="1.47" fill="#2e2e2e"/>
<rect x="351.88" y="84.21" width="12.92" height="3.27" rx="2.95" ry="1.64" fill="#111111"/>
</g>
<rect x="313.1" y="81.9" width="51.7" height="7.9" fill="none" stroke="#5a5a5a" stroke-width="0.7"/>
<rect x="313.1" y="91.4" width="51.7" height="8.1" fill="#cacaca"/>
<g filter="url(#bl)">
<rect x="313.1" y="94.18" width="12.92" height="2.53" rx="2.28" ry="1.27" fill="#353535"/>
<rect x="326.03" y="94.18" width="12.92" height="2.53" rx="2.28" ry="1.27" fill="#353535"/>
<rect x="338.95" y="94.15" width="12.92" height="2.6" rx="2.34" ry="1.3" fill="#2c2c2c"/>
<rect x="351.88" y="94.15" width="12.92" height="2.6" rx="2.34" ry="1.3" fill="#2c2c2c"/>
</g>
<rect x="313.1" y="91.4" width="51.7" height="8.1" fill="none" stroke="#5a5a5a" stroke-width="0.7"/>
<text x="375.45" y="10.3" font-size="13" font-weight="bold" fill="#000" stroke="#000" stroke-width="0.15">G</text>
<text x="461.3" y="18.8" font-size="6.7" text-anchor="middle" fill="#111" stroke="#111" stroke-width="0.22">EC9706</text>
<line x1="422.5" y1="22" x2="496.3" y2="22" stroke="#6a6a6a" stroke-width="0.9"/>
<text x="430" y="31.3" font-size="6.7" text-anchor="middle" fill="#111" stroke="#111" stroke-width="0.22">Cytosol</text>
<text x="482.5" y="31.3" font-size="6.7" text-anchor="middle" fill="#111" stroke="#111" stroke-width="0.22">Nuclear</text>
<line x1="401.3" y1="34.5" x2="455.5" y2="34.5" stroke="#6a6a6a" stroke-width="0.9"/>
<line x1="458" y1="34.5" x2="507" y2="34.5" stroke="#6a6a6a" stroke-width="0.9"/>
<text x="410.45" y="64.5" font-size="6.8" fill="#111" stroke="#111" stroke-width="0.22" transform="rotate(-45 410.45 64.5)">sh-ctrl</text>
<text x="423.55" y="64.5" font-size="6.8" fill="#111" stroke="#111" stroke-width="0.22" transform="rotate(-45 423.55 64.5)">shR-PLCE1</text>
<text x="436.65" y="64.5" font-size="6.8" fill="#111" stroke="#111" stroke-width="0.22" transform="rotate(-45 436.65 64.5)">DMSO</text>
<text x="449.75" y="64.5" font-size="6.8" fill="#111" stroke="#111" stroke-width="0.22" transform="rotate(-45 449.75 64.5)">U73122</text>
<text x="464.65" y="64.5" font-size="6.8" fill="#111" stroke="#111" stroke-width="0.22" transform="rotate(-45 464.65 64.5)">sh-ctrl</text>
<text x="477.15" y="64.5" font-size="6.8" fill="#111" stroke="#111" stroke-width="0.22" transform="rotate(-45 477.15 64.5)">shR-PLCE1</text>
<text x="489.65" y="64.5" font-size="6.8" fill="#111" stroke="#111" stroke-width="0.22" transform="rotate(-45 489.65 64.5)">DMSO</text>
<text x="502.15" y="64.5" font-size="6.8" fill="#111" stroke="#111" stroke-width="0.22" transform="rotate(-45 502.15 64.5)">U73122</text>
<text x="398.6" y="74.35" font-size="6.6" text-anchor="end" fill="#111" stroke="#111" stroke-width="0.22">p53</text>
<text x="398.6" y="83.35" font-size="6.6" text-anchor="end" fill="#111" stroke="#111" stroke-width="0.22">Histone</text>
<text x="398.6" y="93.3" font-size="6.6" text-anchor="end" fill="#111" stroke="#111" stroke-width="0.22">GAPDH</text>
<rect x="403.2" y="66.3" width="52.4" height="8.6" fill="#c2c2c2"/>
<g filter="url(#bl)">
<rect x="403.2" y="68.59" width="13.1" height="4.02" rx="3.62" ry="2.01" fill="#0e0e0e"/>
<rect x="416.3" y="69.47" width="13.1" height="2.25" rx="2.03" ry="1.13" fill="#9f9f9f"/>
<rect x="429.4" y="68.74" width="13.1" height="3.72" rx="3.35" ry="1.86" fill="#222222"/>
<rect x="442.5" y="69.49" width="13.1" height="2.21" rx="1.99" ry="1.11" fill="#a2a2a2"/>
</g>
<rect x="403.2" y="66.3" width="52.4" height="8.6" fill="none" stroke="#5a5a5a" stroke-width="0.7"/>
<rect x="403.2" y="76.6" width="52.4" height="8" fill="#bababa"/>
<g filter="url(#bl)">
<rect x="417.19" y="79.72" width="11.32" height="1.77" rx="1.59" ry="0.88" fill="#a6a6a6"/>
</g>
<rect x="403.2" y="76.6" width="52.4" height="8" fill="none" stroke="#5a5a5a" stroke-width="0.7"/>
<rect x="403.2" y="86.8" width="52.4" height="7.5" fill="#c4c4c4"/>
<g filter="url(#bl)">
<rect x="403.38" y="88.84" width="12.73" height="3.42" rx="3.08" ry="1.71" fill="#111111"/>
<rect x="416.48" y="88.88" width="12.73" height="3.33" rx="3" ry="1.67" fill="#1a1a1a"/>
<rect x="429.58" y="88.84" width="12.73" height="3.42" rx="3.08" ry="1.71" fill="#111111"/>
<rect x="442.68" y="88.84" width="12.73" height="3.42" rx="3.08" ry="1.71" fill="#111111"/>
</g>
<rect x="403.2" y="86.8" width="52.4" height="7.5" fill="none" stroke="#5a5a5a" stroke-width="0.7"/>
<rect x="457.7" y="66.3" width="50" height="8.6" fill="#c4c4c4"/>
<g filter="url(#bl)">
<rect x="457.7" y="69" width="12.5" height="3.2" rx="2.88" ry="1.6" fill="#343434"/>
<rect x="470.2" y="68.82" width="12.5" height="3.56" rx="3.21" ry="1.78" fill="#111111"/>
<rect x="482.7" y="68.86" width="12.5" height="3.47" rx="3.13" ry="1.74" fill="#1a1a1a"/>
<rect x="495.2" y="68.77" width="12.5" height="3.66" rx="3.29" ry="1.83" fill="#0e0e0e"/>
</g>
<rect x="457.7" y="66.3" width="50" height="8.6" fill="none" stroke="#5a5a5a" stroke-width="0.7"/>
<rect x="457.7" y="76.6" width="50" height="8" fill="#bcbcbc"/>
<g filter="url(#bl)">
<rect x="457.88" y="78.78" width="12.15" height="3.65" rx="3.28" ry="1.82" fill="#111111"/>
<rect x="470.38" y="78.78" width="12.15" height="3.65" rx="3.28" ry="1.82" fill="#111111"/>
<rect x="482.88" y="78.78" width="12.15" height="3.65" rx="3.28" ry="1.82" fill="#111111"/>
<rect x="495.38" y="78.78" width="12.15" height="3.65" rx="3.28" ry="1.82" fill="#111111"/>
</g>
<rect x="457.7" y="76.6" width="50" height="8" fill="none" stroke="#5a5a5a" stroke-width="0.7"/>
<rect x="457.7" y="86.8" width="50" height="7.5" fill="#c4c4c4"/>
<g filter="url(#bl)">
</g>
<rect x="457.7" y="86.8" width="50" height="7.5" fill="none" stroke="#5a5a5a" stroke-width="0.7"/>
<text x="87.05" y="110.8" font-size="13" font-weight="bold" fill="#000" stroke="#000" stroke-width="0.15">E</text>
<text x="128.8" y="112.7" font-size="6.5" text-anchor="middle" fill="#111" stroke="#111" stroke-width="0.22">TE-1</text>
<line x1="116.3" y1="114.9" x2="142.3" y2="114.9" stroke="#6a6a6a" stroke-width="0.9"/>
<text x="122.7" y="137.3" font-size="6.6" fill="#111" stroke="#111" stroke-width="0.22" transform="rotate(-30 122.7 137.3)">Vector</text>
<text x="137.1" y="135.6" font-size="6.6" fill="#111" stroke="#111" stroke-width="0.22" transform="rotate(-30 137.1 135.6)">PLCE1</text>
<text x="113" y="145.35" font-size="6.6" text-anchor="end" fill="#111" stroke="#111" stroke-width="0.22">PLCE1</text>
<text x="113" y="154.65" font-size="6.6" text-anchor="end" fill="#111" stroke="#111" stroke-width="0.22">P53</text>
<text x="113" y="164.1" font-size="6.6" text-anchor="end" fill="#111" stroke="#111" stroke-width="0.22">PUMA</text>
<text x="113" y="173.45" font-size="6.6" text-anchor="end" fill="#111" stroke="#111" stroke-width="0.22">BAX</text>
<text x="113" y="182.6" font-size="6.6" text-anchor="end" fill="#111" stroke="#111" stroke-width="0.22">P21</text>
<text x="113" y="192.15" font-size="6.6" text-anchor="end" fill="#111" stroke="#111" stroke-width="0.22">GAPDH</text>
<rect x="116.5" y="138.6" width="26.2" height="8" fill="#cacaca"/>
<g filter="url(#bl)">
<rect x="117.04" y="141.07" width="12.03" height="3.06" rx="2.75" ry="1.53" fill="#2c2c2c"/>
<rect x="130.14" y="140.94" width="12.03" height="3.31" rx="2.98" ry="1.66" fill="#111111"/>
</g>
<rect x="116.5" y="138.6" width="26.2" height="8" fill="none" stroke="#5a5a5a" stroke-width="0.7"/>
<rect x="116.5" y="148.4" width="26.2" height="7" fill="#cccccc"/>
<g filter="url(#bl)">
<rect x="117.04" y="150.49" width="12.03" height="2.83" rx="2.54" ry="1.41" fill="#1a1a1a"/>
<rect x="130.14" y="150.93" width="12.03" height="1.93" rx="1.74" ry="0.97" fill="#878787"/>
</g>
<rect x="116.5" y="148.4" width="26.2" height="7" fill="none" stroke="#5a5a5a" stroke-width="0.7"/>
<rect x="116.5" y="157.1" width="26.2" height="8.5" fill="#c4c4c4"/>
<g filter="url(#bl)">
<rect x="117.44" y="159" width="13.23" height="4.7" rx="4.23" ry="2.35" fill="#0e0e0e"/>
<rect x="131.14" y="160.05" width="12.03" height="2.6" rx="2.34" ry="1.3" fill="#2b2b2b"/>
</g>
<rect x="116.5" y="157.1" width="26.2" height="8.5" fill="none" stroke="#5a5a5a" stroke-width="0.7"/>
<rect x="116.5" y="166.7" width="26.2" height="8" fill="#bebebe"/>
<g filter="url(#bl)">
<rect x="117.44" y="168.49" width="13.23" height="4.42" rx="3.98" ry="2.21" fill="#0e0e0e"/>
<rect x="130.54" y="169.13" width="13.23" height="3.15" rx="2.83" ry="1.57" fill="#222222"/>
</g>
<rect x="116.5" y="166.7" width="26.2" height="8" fill="none" stroke="#5a5a5a" stroke-width="0.7"/>
<rect x="116.5" y="176.1" width="26.2" height="7.5" fill="#c6c6c6"/>
<g filter="url(#bl)">
<rect x="117.04" y="178.38" width="12.03" height="2.95" rx="2.65" ry="1.47" fill="#232323"/>
<rect x="130.14" y="178.97" width="12.03" height="1.75" rx="1.58" ry="0.88" fill="#a6a6a6"/>
</g>
<rect x="116.5" y="176.1" width="26.2" height="7.5" fill="none" stroke="#5a5a5a" stroke-width="0.7"/>
<rect x="116.5" y="185.3" width="26.2" height="8.2" fill="#c8c8c8"/>
<g filter="url(#bl)">
<rect x="117.44" y="187.31" width="13.23" height="4.18" rx="3.76" ry="2.09" fill="#0e0e0e"/>
<rect x="130.54" y="187.31" width="13.23" height="4.18" rx="3.76" ry="2.09" fill="#0e0e0e"/>
</g>
<rect x="116.5" y="185.3" width="26.2" height="8.2" fill="none" stroke="#5a5a5a" stroke-width="0.7"/>
<text x="374.25" y="119.7" font-size="13" font-weight="bold" fill="#000" stroke="#000" stroke-width="0.15">H</text>
<text x="444.2" y="127.7" font-size="7.4" text-anchor="middle" fill="#111" stroke="#111" stroke-width="0.22">Eca109</text>
<text x="494.5" y="127.7" font-size="7.2" text-anchor="middle" fill="#111" stroke="#111" stroke-width="0.22">EC9706</text>
<line x1="419.5" y1="128.9" x2="462.5" y2="128.9" stroke="#6a6a6a" stroke-width="0.9"/>
<line x1="472.5" y1="128.9" x2="515" y2="128.9" stroke="#6a6a6a" stroke-width="0.9"/>
<text x="411.3" y="137.6" font-size="6.6" text-anchor="end" fill="#111" stroke="#111" stroke-width="0.22">shR-PLCE1</text>
<text x="411.3" y="145.6" font-size="6.6" text-anchor="end" fill="#111" stroke="#111" stroke-width="0.22">MG132</text>
<text x="420.5" y="137.8" font-size="6.6" text-anchor="middle" fill="#111" stroke="#111" stroke-width="0.22">-</text>
<text x="420.5" y="145.8" font-size="6.6" text-anchor="middle" fill="#111" stroke="#111" stroke-width="0.22">+</text>
<text x="435.5" y="137.8" font-size="6.6" text-anchor="middle" fill="#111" stroke="#111" stroke-width="0.22">+</text>
<text x="435.5" y="145.8" font-size="6.6" text-anchor="middle" fill="#111" stroke="#111" stroke-width="0.22">+</text>
<text x="449.3" y="137.8" font-size="6.6" text-anchor="middle" fill="#111" stroke="#111" stroke-width="0.22">-</text>
<text x="449.3" y="145.8" font-size="6.6" text-anchor="middle" fill="#111" stroke="#111" stroke-width="0.22">-</text>
<text x="461.3" y="137.8" font-size="6.6" text-anchor="middle" fill="#111" stroke="#111" stroke-width="0.22">+</text>
<text x="461.3" y="145.8" font-size="6.6" text-anchor="middle" fill="#111" stroke="#111" stroke-width="0.22">-</text>
<text x="474.5" y="137.8" font-size="6.6" text-anchor="middle" fill="#111" stroke="#111" stroke-width="0.22">-</text>
<text x="474.5" y="145.8" font-size="6.6" text-anchor="middle" fill="#111" stroke="#111" stroke-width="0.22">+</text>
<text x="488.8" y="137.8" font-size="6.6" text-anchor="middle" fill="#111" stroke="#111" stroke-width="0.22">+</text>
<text x="488.8" y="145.8" font-size="6.6" text-anchor="middle" fill="#111" stroke="#111" stroke-width="0.22">+</text>
<text x="502.5" y="137.8" font-size="6.6" text-anchor="middle" fill="#111" stroke="#111" stroke-width="0.22">-</text>
<text x="502.5" y="145.8" font-size="6.6" text-anchor="middle" fill="#111" stroke="#111" stroke-width="0.22">-</text>
<text x="513.8" y="137.8" font-size="6.6" text-anchor="middle" fill="#111" stroke="#111" stroke-width="0.22">+</text>
<text x="513.8" y="145.8" font-size="6.6" text-anchor="middle" fill="#111" stroke="#111" stroke-width="0.22">-</text>
<text x="411.3" y="154.85" font-size="6.6" text-anchor="end" fill="#111" stroke="#111" stroke-width="0.22">PLCE1</text>
<text x="411.3" y="164.3" font-size="6.6" text-anchor="end" fill="#111" stroke="#111" stroke-width="0.22">p53</text>
<text x="411.3" y="174.4" font-size="6.6" text-anchor="end" fill="#111" stroke="#111" stroke-width="0.22">GAPDH</text>
<rect x="414.5" y="147.2" width="49.4" height="7.8" fill="#cacaca"/>
<g filter="url(#bl)">
<rect x="414.87" y="149.5" width="9.6" height="3.19" rx="2.87" ry="1.6" fill="#353535"/>
<rect x="441.84" y="149.46" width="9.07" height="3.28" rx="2.95" ry="1.64" fill="#2c2c2c"/>
</g>
<rect x="414.5" y="147.2" width="49.4" height="7.8" fill="none" stroke="#5a5a5a" stroke-width="0.7"/>
<rect x="414.5" y="156.9" width="49.4" height="7.3" fill="#d2d2d2"/>
<g filter="url(#bl)">
<rect x="414.5" y="159" width="12.35" height="3.1" rx="2.79" ry="1.55" fill="#0e0e0e"/>
<rect x="426.85" y="159" width="12.35" height="3.1" rx="2.79" ry="1.55" fill="#0e0e0e"/>
<rect x="451.55" y="159.31" width="12.35" height="2.48" rx="2.23" ry="1.24" fill="#535353"/>
</g>
<rect x="414.5" y="156.9" width="49.4" height="7.3" fill="none" stroke="#5a5a5a" stroke-width="0.7"/>
<rect x="414.5" y="166.5" width="49.4" height="8.3" fill="#6a6a6a"/>
<g filter="url(#bl)">
<rect x="414.5" y="169.06" width="12.35" height="3.17" rx="2.86" ry="1.59" fill="#373737"/>
<rect x="426.85" y="169.06" width="12.35" height="3.17" rx="2.86" ry="1.59" fill="#373737"/>
<rect x="439.2" y="169.06" width="12.35" height="3.17" rx="2.86" ry="1.59" fill="#373737"/>
<rect x="451.55" y="169.06" width="12.35" height="3.17" rx="2.86" ry="1.59" fill="#373737"/>
</g>
<rect x="414.5" y="166.5" width="49.4" height="8.3" fill="none" stroke="#5a5a5a" stroke-width="0.7"/>
<rect x="467" y="147.2" width="50.5" height="7.8" fill="#c6c6c6"/>
<g filter="url(#bl)">
<rect x="470.49" y="150.01" width="7.64" height="2.19" rx="1.97" ry="1.09" fill="#606060"/>
<rect x="480.48" y="150.14" width="10.91" height="1.91" rx="1.72" ry="0.96" fill="#afafaf"/>
<rect x="495.47" y="149.41" width="8.18" height="3.37" rx="3.04" ry="1.69" fill="#232323"/>
<rect x="505.73" y="150.14" width="10.91" height="1.91" rx="1.72" ry="0.96" fill="#afafaf"/>
</g>
<rect x="467" y="147.2" width="50.5" height="7.8" fill="none" stroke="#5a5a5a" stroke-width="0.7"/>
<rect x="467" y="156.9" width="50.5" height="7.3" fill="#d0d0d0"/>
<g filter="url(#bl)">
<rect x="467" y="159" width="12.62" height="3.1" rx="2.79" ry="1.55" fill="#0e0e0e"/>
<rect x="479.62" y="159" width="12.62" height="3.1" rx="2.79" ry="1.55" fill="#0e0e0e"/>
<rect x="504.88" y="159.54" width="12.62" height="2.02" rx="1.81" ry="1.01" fill="#898989"/>
</g>
<rect x="467" y="156.9" width="50.5" height="7.3" fill="none" stroke="#5a5a5a" stroke-width="0.7"/>
<rect x="467" y="166.5" width="50.5" height="8.3" fill="#d0d0d0"/>
<g filter="url(#bl)">
<rect x="467.52" y="168.93" width="11.59" height="3.44" rx="3.1" ry="1.72" fill="#111111"/>
<rect x="480.14" y="168.93" width="11.59" height="3.44" rx="3.1" ry="1.72" fill="#111111"/>
<rect x="492.77" y="168.97" width="11.59" height="3.35" rx="3.02" ry="1.68" fill="#1b1b1b"/>
<rect x="505.39" y="169.02" width="11.59" height="3.26" rx="2.94" ry="1.63" fill="#242424"/>
</g>
<rect x="467" y="166.5" width="50.5" height="8.3" fill="none" stroke="#5a5a5a" stroke-width="0.7"/>
<text x="168.05" y="110.8" font-size="13" font-weight="bold" fill="#000" stroke="#000" stroke-width="0.15">F</text>
<line x1="189.7" y1="122.25" x2="189.7" y2="179.7" stroke="#444" stroke-width="0.7"/>
<line x1="189.7" y1="179.4" x2="265.5" y2="179.4" stroke="#444" stroke-width="0.7"/>
<line x1="188.2" y1="179.4" x2="189.7" y2="179.4" stroke="#444" stroke-width="0.7"/>
<text x="187.3" y="181.8" font-size="6.6" text-anchor="end" fill="#111" stroke="#111" stroke-width="0.22">0.0</text>
<line x1="188.2" y1="160.45" x2="189.7" y2="160.45" stroke="#444" stroke-width="0.7"/>
<text x="187.3" y="162.85" font-size="6.6" text-anchor="end" fill="#111" stroke="#111" stroke-width="0.22">0.5</text>
<line x1="188.2" y1="141.5" x2="189.7" y2="141.5" stroke="#444" stroke-width="0.7"/>
<text x="187.3" y="143.9" font-size="6.6" text-anchor="end" fill="#111" stroke="#111" stroke-width="0.22">1.0</text>
<line x1="188.2" y1="122.55" x2="189.7" y2="122.55" stroke="#444" stroke-width="0.7"/>
<text x="187.3" y="124.95" font-size="6.6" text-anchor="end" fill="#111" stroke="#111" stroke-width="0.22">1.5</text>
<text x="172.6" y="150.98" font-size="6.6" text-anchor="middle" fill="#111" stroke="#111" stroke-width="0.22" transform="rotate(-90 172.6 150.98)">Relative mRNA level</text>
<rect x="192.1" y="141.5" width="5.9" height="37.9" fill="#f01414"/>
<rect x="192.1" y="140.9" width="5.9" height="2.2" fill="#7a1010"/>
<rect x="198" y="169.17" width="6.1" height="10.23" fill="#1e8a2a"/>
<line x1="201.05" y1="168.41" x2="201.05" y2="169.93" stroke="#111" stroke-width="0.7"/>
<line x1="199.7" y1="168.41" x2="202.4" y2="168.41" stroke="#111" stroke-width="0.7"/>
<circle cx="199.65" cy="170.07" r="0.8" fill="#0a2a0a"/>
<circle cx="201.05" cy="169.07" r="0.8" fill="#0a2a0a"/>
<circle cx="202.45" cy="170.27" r="0.8" fill="#0a2a0a"/>
<text x="201.05" y="167.81" font-size="5.5" text-anchor="middle" fill="#222" stroke="#222" stroke-width="0.06">***</text>
<text x="201.4" y="186.6" font-size="6.6" text-anchor="end" fill="#111" stroke="#111" stroke-width="0.22" transform="rotate(-30 201.4 186.6)">PLCE1</text>
<rect x="207.2" y="141.5" width="5.9" height="37.9" fill="#f01414"/>
<rect x="207.2" y="140.9" width="5.9" height="2.2" fill="#7a1010"/>
<rect x="213.1" y="149.46" width="6.1" height="29.94" fill="#1e8a2a"/>
<line x1="216.15" y1="146.43" x2="216.15" y2="152.49" stroke="#111" stroke-width="0.7"/>
<line x1="214.8" y1="146.43" x2="217.5" y2="146.43" stroke="#111" stroke-width="0.7"/>
<circle cx="214.75" cy="150.36" r="0.8" fill="#0a2a0a"/>
<circle cx="216.15" cy="149.36" r="0.8" fill="#0a2a0a"/>
<circle cx="217.55" cy="150.56" r="0.8" fill="#0a2a0a"/>
<circle cx="216.15" cy="144.03" r="1.05" fill="#777" stroke="#222" stroke-width="0.6"/>
<text x="216.5" y="186.6" font-size="6.6" text-anchor="end" fill="#111" stroke="#111" stroke-width="0.22" transform="rotate(-30 216.5 186.6)">p53</text>
<rect x="222.3" y="141.5" width="5.9" height="37.9" fill="#f01414"/>
<rect x="222.3" y="140.9" width="5.9" height="2.2" fill="#7a1010"/>
<rect x="228.2" y="136.57" width="6.1" height="42.83" fill="#1e8a2a"/>
<line x1="231.25" y1="134.68" x2="231.25" y2="138.47" stroke="#111" stroke-width="0.7"/>
<line x1="229.9" y1="134.68" x2="232.6" y2="134.68" stroke="#111" stroke-width="0.7"/>
<circle cx="229.85" cy="137.47" r="0.8" fill="#0a2a0a"/>
<circle cx="231.25" cy="136.47" r="0.8" fill="#0a2a0a"/>
<circle cx="232.65" cy="137.67" r="0.8" fill="#0a2a0a"/>
<circle cx="231.25" cy="132.28" r="1.05" fill="#777" stroke="#222" stroke-width="0.6"/>
<text x="231.6" y="186.6" font-size="6.6" text-anchor="end" fill="#111" stroke="#111" stroke-width="0.22" transform="rotate(-30 231.6 186.6)">p21</text>
<rect x="237.4" y="141.5" width="5.9" height="37.9" fill="#f01414"/>
<rect x="237.4" y="140.9" width="5.9" height="2.2" fill="#7a1010"/>
<rect x="243.3" y="150.22" width="6.1" height="29.18" fill="#1e8a2a"/>
<line x1="246.35" y1="147.94" x2="246.35" y2="152.49" stroke="#111" stroke-width="0.7"/>
<line x1="245" y1="147.94" x2="247.7" y2="147.94" stroke="#111" stroke-width="0.7"/>
<circle cx="244.95" cy="151.12" r="0.8" fill="#0a2a0a"/>
<circle cx="246.35" cy="150.12" r="0.8" fill="#0a2a0a"/>
<circle cx="247.75" cy="151.32" r="0.8" fill="#0a2a0a"/>
<circle cx="246.35" cy="145.54" r="1.05" fill="#777" stroke="#222" stroke-width="0.6"/>
<text x="246.7" y="186.6" font-size="6.6" text-anchor="end" fill="#111" stroke="#111" stroke-width="0.22" transform="rotate(-30 246.7 186.6)">Bax</text>
<rect x="252.5" y="141.5" width="5.9" height="37.9" fill="#f01414"/>
<rect x="252.5" y="140.9" width="5.9" height="2.2" fill="#7a1010"/>
<rect x="258.4" y="155.9" width="6.1" height="23.5" fill="#1e8a2a"/>
<line x1="261.45" y1="154.39" x2="261.45" y2="157.42" stroke="#111" stroke-width="0.7"/>
<line x1="260.1" y1="154.39" x2="262.8" y2="154.39" stroke="#111" stroke-width="0.7"/>
<circle cx="260.05" cy="156.8" r="0.8" fill="#0a2a0a"/>
<circle cx="261.45" cy="155.8" r="0.8" fill="#0a2a0a"/>
<circle cx="262.85" cy="157" r="0.8" fill="#0a2a0a"/>
<circle cx="261.45" cy="151.99" r="1.05" fill="#777" stroke="#222" stroke-width="0.6"/>
<text x="261.8" y="186.6" font-size="6.6" text-anchor="end" fill="#111" stroke="#111" stroke-width="0.22" transform="rotate(-30 261.8 186.6)">Puma</text>
<text x="219.5" y="204.7" font-size="6.7" text-anchor="middle" fill="#111" stroke="#111" stroke-width="0.22">Eca109</text>
<rect x="196.8" y="117.2" width="8.4" height="3.8" fill="#f01414"/>
<line x1="197.3" y1="119.1" x2="204.7" y2="119.1" stroke="#7a1010" stroke-width="1.2"/>
<rect x="196.8" y="123.4" width="8.4" height="3.8" fill="#1e8a2a"/>
<line x1="197.3" y1="125.3" x2="204.7" y2="125.3" stroke="#0a3a0a" stroke-width="1.2"/>
<text x="208" y="121.5" font-size="6.6" fill="#111" stroke="#111" stroke-width="0.22">sh-ctrl</text>
<text x="208" y="127.8" font-size="6.6" fill="#111" stroke="#111" stroke-width="0.22">shR-PLCE1</text>
<line x1="294.7" y1="122.45" x2="294.7" y2="180.8" stroke="#444" stroke-width="0.7"/>
<line x1="294.7" y1="180.5" x2="369.5" y2="180.5" stroke="#444" stroke-width="0.7"/>
<line x1="293.2" y1="180.5" x2="294.7" y2="180.5" stroke="#444" stroke-width="0.7"/>
<text x="292.3" y="182.9" font-size="6.6" text-anchor="end" fill="#111" stroke="#111" stroke-width="0.22">0.0</text>
<line x1="293.2" y1="161.25" x2="294.7" y2="161.25" stroke="#444" stroke-width="0.7"/>
<text x="292.3" y="163.65" font-size="6.6" text-anchor="end" fill="#111" stroke="#111" stroke-width="0.22">0.5</text>
<line x1="293.2" y1="142" x2="294.7" y2="142" stroke="#444" stroke-width="0.7"/>
<text x="292.3" y="144.4" font-size="6.6" text-anchor="end" fill="#111" stroke="#111" stroke-width="0.22">1.0</text>
<line x1="293.2" y1="122.75" x2="294.7" y2="122.75" stroke="#444" stroke-width="0.7"/>
<text x="292.3" y="125.15" font-size="6.6" text-anchor="end" fill="#111" stroke="#111" stroke-width="0.22">1.5</text>
<text x="277.8" y="151.62" font-size="6.6" text-anchor="middle" fill="#111" stroke="#111" stroke-width="0.22" transform="rotate(-90 277.8 151.62)">Relative mRNA level</text>
<rect x="296.3" y="142" width="5.9" height="38.5" fill="#f01414"/>
<rect x="296.3" y="141.4" width="5.9" height="2.2" fill="#7a1010"/>
<rect x="302.2" y="171.65" width="6.1" height="8.85" fill="#1e8a2a"/>
<line x1="305.25" y1="170.88" x2="305.25" y2="172.42" stroke="#111" stroke-width="0.7"/>
<line x1="303.9" y1="170.88" x2="306.6" y2="170.88" stroke="#111" stroke-width="0.7"/>
<circle cx="303.85" cy="172.55" r="0.8" fill="#0a2a0a"/>
<circle cx="305.25" cy="171.55" r="0.8" fill="#0a2a0a"/>
<circle cx="306.65" cy="172.75" r="0.8" fill="#0a2a0a"/>
<text x="305.25" y="170.28" font-size="5.5" text-anchor="middle" fill="#222" stroke="#222" stroke-width="0.06">***</text>
<text x="305.6" y="187.7" font-size="6.6" text-anchor="end" fill="#111" stroke="#111" stroke-width="0.22" transform="rotate(-30 305.6 187.7)">PLCE1</text>
<rect x="311.3" y="142" width="5.9" height="38.5" fill="#f01414"/>
<rect x="311.3" y="141.4" width="5.9" height="2.2" fill="#7a1010"/>
<rect x="317.2" y="157.01" width="6.1" height="23.49" fill="#1e8a2a"/>
<line x1="320.25" y1="155.47" x2="320.25" y2="158.55" stroke="#111" stroke-width="0.7"/>
<line x1="318.9" y1="155.47" x2="321.6" y2="155.47" stroke="#111" stroke-width="0.7"/>
<circle cx="318.85" cy="157.91" r="0.8" fill="#0a2a0a"/>
<circle cx="320.25" cy="156.91" r="0.8" fill="#0a2a0a"/>
<circle cx="321.65" cy="158.11" r="0.8" fill="#0a2a0a"/>
<circle cx="320.25" cy="153.07" r="1.05" fill="#777" stroke="#222" stroke-width="0.6"/>
<text x="320.6" y="187.7" font-size="6.6" text-anchor="end" fill="#111" stroke="#111" stroke-width="0.22" transform="rotate(-30 320.6 187.7)">p53</text>
<rect x="326.3" y="142" width="5.9" height="38.5" fill="#f01414"/>
<rect x="326.3" y="141.4" width="5.9" height="2.2" fill="#7a1010"/>
<rect x="332.2" y="155.86" width="6.1" height="24.64" fill="#1e8a2a"/>
<line x1="335.25" y1="153.55" x2="335.25" y2="158.17" stroke="#111" stroke-width="0.7"/>
<line x1="333.9" y1="153.55" x2="336.6" y2="153.55" stroke="#111" stroke-width="0.7"/>
<circle cx="333.85" cy="156.76" r="0.8" fill="#0a2a0a"/>
<circle cx="335.25" cy="155.76" r="0.8" fill="#0a2a0a"/>
<circle cx="336.65" cy="156.96" r="0.8" fill="#0a2a0a"/>
<circle cx="335.25" cy="151.15" r="1.05" fill="#777" stroke="#222" stroke-width="0.6"/>
<text x="335.6" y="187.7" font-size="6.6" text-anchor="end" fill="#111" stroke="#111" stroke-width="0.22" transform="rotate(-30 335.6 187.7)">p21</text>
<rect x="341.3" y="142" width="5.9" height="38.5" fill="#f01414"/>
<rect x="341.3" y="141.4" width="5.9" height="2.2" fill="#7a1010"/>
<rect x="347.2" y="147.39" width="6.1" height="33.11" fill="#1e8a2a"/>
<line x1="350.25" y1="146.62" x2="350.25" y2="148.16" stroke="#111" stroke-width="0.7"/>
<line x1="348.9" y1="146.62" x2="351.6" y2="146.62" stroke="#111" stroke-width="0.7"/>
<circle cx="348.85" cy="148.29" r="0.8" fill="#0a2a0a"/>
<circle cx="350.25" cy="147.29" r="0.8" fill="#0a2a0a"/>
<circle cx="351.65" cy="148.49" r="0.8" fill="#0a2a0a"/>
<text x="350.6" y="187.7" font-size="6.6" text-anchor="end" fill="#111" stroke="#111" stroke-width="0.22" transform="rotate(-30 350.6 187.7)">Bax</text>
<rect x="356.3" y="142" width="5.9" height="38.5" fill="#f01414"/>
<rect x="356.3" y="141.4" width="5.9" height="2.2" fill="#7a1010"/>
<rect x="362.2" y="155.09" width="6.1" height="25.41" fill="#1e8a2a"/>
<line x1="365.25" y1="153.16" x2="365.25" y2="157.02" stroke="#111" stroke-width="0.7"/>
<line x1="363.9" y1="153.16" x2="366.6" y2="153.16" stroke="#111" stroke-width="0.7"/>
<circle cx="363.85" cy="155.99" r="0.8" fill="#0a2a0a"/>
<circle cx="365.25" cy="154.99" r="0.8" fill="#0a2a0a"/>
<circle cx="366.65" cy="156.19" r="0.8" fill="#0a2a0a"/>
<text x="365.6" y="187.7" font-size="6.6" text-anchor="end" fill="#111" stroke="#111" stroke-width="0.22" transform="rotate(-30 365.6 187.7)">Puma</text>
<text x="330" y="205.8" font-size="6.7" text-anchor="middle" fill="#111" stroke="#111" stroke-width="0.22">EC9706</text>
<rect x="302.2" y="117.2" width="8.4" height="3.8" fill="#f01414"/>
<line x1="302.7" y1="119.1" x2="310.1" y2="119.1" stroke="#7a1010" stroke-width="1.2"/>
<rect x="302.2" y="123.4" width="8.4" height="3.8" fill="#1e8a2a"/>
<line x1="302.7" y1="125.3" x2="310.1" y2="125.3" stroke="#0a3a0a" stroke-width="1.2"/>
<text x="313.4" y="121.5" font-size="6.6" fill="#111" stroke="#111" stroke-width="0.22">sh-ctrl</text>
<text x="313.4" y="127.8" font-size="6.6" fill="#111" stroke="#111" stroke-width="0.22">shR-PLCE1</text>
<text x="170.45" y="219.7" font-size="13" font-weight="bold" fill="#000" stroke="#000" stroke-width="0.15">I</text>
<text x="308" y="223.2" font-size="6.7" text-anchor="middle" fill="#111" stroke="#111" stroke-width="0.22">Eca109</text>
<line x1="252.5" y1="226.3" x2="362.5" y2="226.3" stroke="#6a6a6a" stroke-width="0.9"/>
<text x="261.3" y="233.8" font-size="6.7" text-anchor="middle" fill="#111" stroke="#111" stroke-width="0.22">sh-ctrl</text>
<text x="352.5" y="233.8" font-size="6.7" text-anchor="middle" fill="#111" stroke="#111" stroke-width="0.22">shR-PLCE1</text>
<line x1="220.5" y1="237.5" x2="301.3" y2="237.5" stroke="#6a6a6a" stroke-width="0.9"/>
<line x1="312.5" y1="237.5" x2="392" y2="237.5" stroke="#6a6a6a" stroke-width="0.9"/>
<text x="210" y="247.7" font-size="6.85" text-anchor="end" fill="#111" stroke="#111" stroke-width="0.22">CHX time (h)</text>
<text x="221.3" y="247.7" font-size="6.7" text-anchor="middle" fill="#111" stroke="#111" stroke-width="0.22">0</text>
<text x="232.8" y="247.7" font-size="6.7" text-anchor="middle" fill="#111" stroke="#111" stroke-width="0.22">0.5</text>
<text x="247" y="247.7" font-size="6.7" text-anchor="middle" fill="#111" stroke="#111" stroke-width="0.22">1</text>
<text x="260.7" y="247.7" font-size="6.7" text-anchor="middle" fill="#111" stroke="#111" stroke-width="0.22">1.5</text>
<text x="275.7" y="247.7" font-size="6.7" text-anchor="middle" fill="#111" stroke="#111" stroke-width="0.22">2</text>
<text x="288.1" y="247.7" font-size="6.7" text-anchor="middle" fill="#111" stroke="#111" stroke-width="0.22">2.5</text>
<text x="300.3" y="247.7" font-size="6.7" text-anchor="middle" fill="#111" stroke="#111" stroke-width="0.22">3</text>
<text x="312.9" y="247.7" font-size="6.7" text-anchor="middle" fill="#111" stroke="#111" stroke-width="0.22">0</text>
<text x="326.8" y="247.7" font-size="6.7" text-anchor="middle" fill="#111" stroke="#111" stroke-width="0.22">0.5</text>
<text x="339.2" y="247.7" font-size="6.7" text-anchor="middle" fill="#111" stroke="#111" stroke-width="0.22">1</text>
<text x="352.8" y="247.7" font-size="6.7" text-anchor="middle" fill="#111" stroke="#111" stroke-width="0.22">1.5</text>
<text x="365.8" y="247.7" font-size="6.7" text-anchor="middle" fill="#111" stroke="#111" stroke-width="0.22">2</text>
<text x="378.3" y="247.7" font-size="6.7" text-anchor="middle" fill="#111" stroke="#111" stroke-width="0.22">2.5</text>
<text x="390.3" y="247.7" font-size="6.7" text-anchor="middle" fill="#111" stroke="#111" stroke-width="0.22">3</text>
<text x="210.6" y="257" font-size="6.6" text-anchor="end" fill="#111" stroke="#111" stroke-width="0.22">PLCE1</text>
<text x="210.6" y="266.85" font-size="6.6" text-anchor="end" fill="#111" stroke="#111" stroke-width="0.22">p53</text>
<text x="210.6" y="276.3" font-size="6.6" text-anchor="end" fill="#111" stroke="#111" stroke-width="0.22">GAPDH</text>
<rect x="214.8" y="249.8" width="89.9" height="8.5" fill="#bdbdbd"/>
<g filter="url(#bl)">
<rect x="214.98" y="252.29" width="12.48" height="3.52" rx="3.17" ry="1.76" fill="#111111"/>
<rect x="227.82" y="252.38" width="12.48" height="3.34" rx="3.01" ry="1.67" fill="#222222"/>
<rect x="240.67" y="252.33" width="12.48" height="3.43" rx="3.09" ry="1.72" fill="#191919"/>
<rect x="253.51" y="252.38" width="12.48" height="3.34" rx="3.01" ry="1.67" fill="#222222"/>
<rect x="266.35" y="252.38" width="12.48" height="3.34" rx="3.01" ry="1.67" fill="#222222"/>
<rect x="279.19" y="252.29" width="12.48" height="3.52" rx="3.17" ry="1.76" fill="#111111"/>
<rect x="295.53" y="252.82" width="7.49" height="2.46" rx="2.21" ry="1.23" fill="#3b3b3b"/>
</g>
<rect x="214.8" y="249.8" width="89.9" height="8.5" fill="none" stroke="#5a5a5a" stroke-width="0.7"/>
<linearGradient id="g743"><stop offset="0" stop-color="#d6d6d6"/><stop offset="1" stop-color="#b4b4b4"/></linearGradient>
<rect x="214.8" y="260.1" width="89.9" height="7.6" fill="url(#g743)"/>
<g filter="url(#bl)">
<rect x="216.37" y="262.56" width="9.71" height="2.69" rx="2.42" ry="1.34" fill="#232323"/>
<rect x="229.21" y="262.74" width="9.71" height="2.33" rx="2.09" ry="1.16" fill="#4e4e4e"/>
<rect x="242.05" y="262.63" width="9.71" height="2.54" rx="2.29" ry="1.27" fill="#343434"/>
<rect x="254.9" y="262.74" width="9.71" height="2.33" rx="2.09" ry="1.16" fill="#4e4e4e"/>
</g>
<rect x="214.8" y="260.1" width="89.9" height="7.6" fill="none" stroke="#5a5a5a" stroke-width="0.7"/>
<rect x="214.8" y="269.6" width="89.9" height="7.5" fill="#cacaca"/>
<g filter="url(#bl)">
<rect x="214.8" y="271.84" width="12.84" height="3.03" rx="2.73" ry="1.51" fill="#1a1a1a"/>
<rect x="227.64" y="271.84" width="12.84" height="3.03" rx="2.73" ry="1.51" fill="#1a1a1a"/>
<rect x="240.49" y="271.84" width="12.84" height="3.03" rx="2.73" ry="1.51" fill="#1a1a1a"/>
<rect x="253.33" y="271.84" width="12.84" height="3.03" rx="2.73" ry="1.51" fill="#1a1a1a"/>
<rect x="266.17" y="271.84" width="12.84" height="3.03" rx="2.73" ry="1.51" fill="#1a1a1a"/>
<rect x="279.01" y="271.8" width="12.84" height="3.11" rx="2.8" ry="1.55" fill="#111111"/>
<rect x="291.86" y="271.8" width="12.84" height="3.11" rx="2.8" ry="1.55" fill="#111111"/>
</g>
<rect x="214.8" y="269.6" width="89.9" height="7.5" fill="none" stroke="#5a5a5a" stroke-width="0.7"/>
<rect x="306.1" y="249.8" width="90.1" height="8.5" fill="#b2b2b2"/>
<g filter="url(#bl)">
</g>
<rect x="306.1" y="249.8" width="90.1" height="8.5" fill="none" stroke="#5a5a5a" stroke-width="0.7"/>
<rect x="306.1" y="260.1" width="90.1" height="7.6" fill="#dadada"/>
<g filter="url(#bl)">
<rect x="306.28" y="262.12" width="12.51" height="3.55" rx="3.2" ry="1.78" fill="#0e0e0e"/>
<rect x="319.15" y="262.17" width="12.51" height="3.46" rx="3.12" ry="1.73" fill="#121212"/>
<rect x="332.02" y="262.21" width="12.51" height="3.38" rx="3.04" ry="1.69" fill="#1b1b1b"/>
<rect x="344.89" y="262.21" width="12.51" height="3.38" rx="3.04" ry="1.69" fill="#1b1b1b"/>
<rect x="357.77" y="262.26" width="12.51" height="3.29" rx="2.96" ry="1.64" fill="#252525"/>
<rect x="370.64" y="262.3" width="12.51" height="3.2" rx="2.88" ry="1.6" fill="#2f2f2f"/>
<rect x="387.01" y="263.28" width="7.51" height="1.24" rx="1.12" ry="0.62" fill="#7c7c7c"/>
</g>
<rect x="306.1" y="260.1" width="90.1" height="7.6" fill="none" stroke="#5a5a5a" stroke-width="0.7"/>
<rect x="306.1" y="269.6" width="90.1" height="7.5" fill="#cecece"/>
<g filter="url(#bl)">
<rect x="306.63" y="271.84" width="11.82" height="3.03" rx="2.73" ry="1.51" fill="#1a1a1a"/>
<rect x="319.5" y="271.84" width="11.82" height="3.03" rx="2.73" ry="1.51" fill="#1a1a1a"/>
<rect x="332.37" y="271.84" width="11.82" height="3.03" rx="2.73" ry="1.51" fill="#1a1a1a"/>
<rect x="345.24" y="271.84" width="11.82" height="3.03" rx="2.73" ry="1.51" fill="#1a1a1a"/>
<rect x="358.11" y="271.84" width="11.82" height="3.03" rx="2.73" ry="1.51" fill="#1a1a1a"/>
<rect x="370.98" y="271.84" width="11.82" height="3.03" rx="2.73" ry="1.51" fill="#1a1a1a"/>
<rect x="386.63" y="272.02" width="8.27" height="2.65" rx="2.39" ry="1.33" fill="#242424"/>
</g>
<rect x="306.1" y="269.6" width="90.1" height="7.5" fill="none" stroke="#5a5a5a" stroke-width="0.7"/>
<text x="308.8" y="291.3" font-size="6.7" text-anchor="middle" fill="#111" stroke="#111" stroke-width="0.22">EC9706</text>
<line x1="252.5" y1="294.2" x2="362.5" y2="294.2" stroke="#6a6a6a" stroke-width="0.9"/>
<text x="262" y="302.6" font-size="6.7" text-anchor="middle" fill="#111" stroke="#111" stroke-width="0.22">sh-ctrl</text>
<text x="352.5" y="302.6" font-size="6.7" text-anchor="middle" fill="#111" stroke="#111" stroke-width="0.22">shR-PLCE1</text>
<line x1="221.3" y1="305.8" x2="301.3" y2="305.8" stroke="#6a6a6a" stroke-width="0.9"/>
<line x1="312.5" y1="306.2" x2="392" y2="306.2" stroke="#6a6a6a" stroke-width="0.9"/>
<text x="209.8" y="315.8" font-size="6.85" text-anchor="end" fill="#111" stroke="#111" stroke-width="0.22">CHX time (h)</text>
<text x="221.75" y="315.8" font-size="6.7" text-anchor="middle" fill="#111" stroke="#111" stroke-width="0.22">0</text>
<text x="234.1" y="315.8" font-size="6.7" text-anchor="middle" fill="#111" stroke="#111" stroke-width="0.22">0.5</text>
<text x="248.3" y="315.8" font-size="6.7" text-anchor="middle" fill="#111" stroke="#111" stroke-width="0.22">1</text>
<text x="261.1" y="315.8" font-size="6.7" text-anchor="middle" fill="#111" stroke="#111" stroke-width="0.22">1.5</text>
<text x="273.75" y="315.8" font-size="6.7" text-anchor="middle" fill="#111" stroke="#111" stroke-width="0.22">2</text>
<text x="286.3" y="315.8" font-size="6.7" text-anchor="middle" fill="#111" stroke="#111" stroke-width="0.22">2.5</text>
<text x="298.3" y="315.8" font-size="6.7" text-anchor="middle" fill="#111" stroke="#111" stroke-width="0.22">3</text>
<text x="314" y="315.8" font-size="6.7" text-anchor="middle" fill="#111" stroke="#111" stroke-width="0.22">0</text>
<text x="325" y="315.8" font-size="6.7" text-anchor="middle" fill="#111" stroke="#111" stroke-width="0.22">0.5</text>
<text x="338.7" y="315.8" font-size="6.7" text-anchor="middle" fill="#111" stroke="#111" stroke-width="0.22">1</text>
<text x="351.3" y="315.8" font-size="6.7" text-anchor="middle" fill="#111" stroke="#111" stroke-width="0.22">1.5</text>
<text x="363.7" y="315.8" font-size="6.7" text-anchor="middle" fill="#111" stroke="#111" stroke-width="0.22">2</text>
<text x="376.5" y="315.8" font-size="6.7" text-anchor="middle" fill="#111" stroke="#111" stroke-width="0.22">2.5</text>
<text x="390.3" y="315.8" font-size="6.7" text-anchor="middle" fill="#111" stroke="#111" stroke-width="0.22">3</text>
<text x="209.3" y="324.7" font-size="6.6" text-anchor="end" fill="#111" stroke="#111" stroke-width="0.22">PLCE1</text>
<text x="209.3" y="334.4" font-size="6.6" text-anchor="end" fill="#111" stroke="#111" stroke-width="0.22">p53</text>
<text x="209.3" y="344" font-size="6.6" text-anchor="end" fill="#111" stroke="#111" stroke-width="0.22">GAPDH</text>
<rect x="213.5" y="317.8" width="91.1" height="7.7" fill="#8e8e8e"/>
<g filter="url(#bl)">
<rect x="213.68" y="320.86" width="12.65" height="1.57" rx="1.41" ry="0.79" fill="#6b6b6b"/>
<rect x="226.7" y="320.86" width="12.65" height="1.57" rx="1.41" ry="0.79" fill="#6b6b6b"/>
<rect x="239.71" y="320.86" width="12.65" height="1.57" rx="1.41" ry="0.79" fill="#6b6b6b"/>
<rect x="252.73" y="320.86" width="12.65" height="1.57" rx="1.41" ry="0.79" fill="#6b6b6b"/>
<rect x="265.74" y="320.86" width="12.65" height="1.57" rx="1.41" ry="0.79" fill="#6b6b6b"/>
<rect x="278.75" y="320.86" width="12.65" height="1.57" rx="1.41" ry="0.79" fill="#6b6b6b"/>
<rect x="291.77" y="320.86" width="12.65" height="1.57" rx="1.41" ry="0.79" fill="#6b6b6b"/>
</g>
<rect x="213.5" y="317.8" width="91.1" height="7.7" fill="none" stroke="#5a5a5a" stroke-width="0.7"/>
<rect x="213.5" y="327.5" width="91.1" height="7.7" fill="#e0e0e0"/>
<g filter="url(#bl)">
<rect x="216.58" y="330.2" width="8.85" height="2.3" rx="2.07" ry="1.15" fill="#121212"/>
<rect x="229.91" y="330.26" width="8.22" height="2.18" rx="1.96" ry="1.09" fill="#262626"/>
<rect x="252.73" y="330.5" width="12.65" height="1.69" rx="1.52" ry="0.85" fill="#b1b1b1"/>
</g>
<rect x="213.5" y="327.5" width="91.1" height="7.7" fill="none" stroke="#5a5a5a" stroke-width="0.7"/>
<rect x="213.5" y="337.1" width="91.1" height="7.7" fill="#a8a8a8"/>
<g filter="url(#bl)">
<rect x="213.5" y="339.31" width="13.01" height="3.27" rx="2.95" ry="1.64" fill="#0e0e0e"/>
<rect x="226.51" y="339.35" width="13.01" height="3.19" rx="2.87" ry="1.6" fill="#111111"/>
<rect x="239.53" y="339.31" width="13.01" height="3.27" rx="2.95" ry="1.64" fill="#0e0e0e"/>
<rect x="252.54" y="339.35" width="13.01" height="3.19" rx="2.87" ry="1.6" fill="#111111"/>
<rect x="265.56" y="339.35" width="13.01" height="3.19" rx="2.87" ry="1.6" fill="#111111"/>
<rect x="278.57" y="339.35" width="13.01" height="3.19" rx="2.87" ry="1.6" fill="#111111"/>
<rect x="291.59" y="339.31" width="13.01" height="3.27" rx="2.95" ry="1.64" fill="#0e0e0e"/>
</g>
<rect x="213.5" y="337.1" width="91.1" height="7.7" fill="none" stroke="#5a5a5a" stroke-width="0.7"/>
<rect x="305.8" y="317.8" width="90.4" height="7.7" fill="#a4a4a4"/>
<g filter="url(#bl)">
<rect x="306.68" y="320.93" width="11.16" height="1.44" rx="1.3" ry="0.72" fill="#8a8a8a"/>
<rect x="319.59" y="320.93" width="11.16" height="1.44" rx="1.3" ry="0.72" fill="#8a8a8a"/>
<rect x="332.51" y="320.93" width="11.16" height="1.44" rx="1.3" ry="0.72" fill="#8a8a8a"/>
<rect x="345.42" y="320.93" width="11.16" height="1.44" rx="1.3" ry="0.72" fill="#8a8a8a"/>
<rect x="358.34" y="320.93" width="11.16" height="1.44" rx="1.3" ry="0.72" fill="#8a8a8a"/>
<rect x="371.25" y="320.93" width="11.16" height="1.44" rx="1.3" ry="0.72" fill="#8a8a8a"/>
<rect x="384.16" y="320.93" width="11.16" height="1.44" rx="1.3" ry="0.72" fill="#8a8a8a"/>
</g>
<rect x="305.8" y="317.8" width="90.4" height="7.7" fill="none" stroke="#5a5a5a" stroke-width="0.7"/>
<rect x="305.8" y="327.5" width="90.4" height="7.7" fill="#d6d6d6"/>
<g filter="url(#bl)">
<rect x="306.68" y="330.21" width="11.16" height="2.28" rx="2.05" ry="1.14" fill="#5e5e5e"/>
<rect x="319.59" y="330.02" width="11.16" height="2.65" rx="2.39" ry="1.33" fill="#2e2e2e"/>
<rect x="332.51" y="329.91" width="11.16" height="2.87" rx="2.58" ry="1.44" fill="#121212"/>
<rect x="345.42" y="329.95" width="11.16" height="2.8" rx="2.52" ry="1.4" fill="#1b1b1b"/>
<rect x="358.34" y="329.91" width="11.16" height="2.87" rx="2.58" ry="1.44" fill="#121212"/>
<rect x="371.25" y="330.02" width="11.16" height="2.65" rx="2.39" ry="1.33" fill="#2e2e2e"/>
</g>
<rect x="305.8" y="327.5" width="90.4" height="7.7" fill="none" stroke="#5a5a5a" stroke-width="0.7"/>
<rect x="305.8" y="337.1" width="90.4" height="7.7" fill="#cacaca"/>
<g filter="url(#bl)">
<rect x="305.98" y="339.35" width="12.55" height="3.19" rx="2.87" ry="1.6" fill="#111111"/>
<rect x="318.9" y="339.35" width="12.55" height="3.19" rx="2.87" ry="1.6" fill="#111111"/>
<rect x="331.81" y="339.35" width="12.55" height="3.19" rx="2.87" ry="1.6" fill="#111111"/>
<rect x="344.72" y="339.35" width="12.55" height="3.19" rx="2.87" ry="1.6" fill="#111111"/>
<rect x="357.64" y="339.35" width="12.55" height="3.19" rx="2.87" ry="1.6" fill="#111111"/>
<rect x="370.55" y="339.35" width="12.55" height="3.19" rx="2.87" ry="1.6" fill="#111111"/>
<rect x="387.6" y="339.62" width="6.28" height="2.65" rx="2.39" ry="1.33" fill="#2c2c2c"/>
</g>
<rect x="305.8" y="337.1" width="90.4" height="7.7" fill="none" stroke="#5a5a5a" stroke-width="0.7"/>
<text x="168.75" y="357.3" font-size="13" font-weight="bold" fill="#000" stroke="#000" stroke-width="0.15">J</text>
<text x="308" y="360.6" font-size="6.7" text-anchor="middle" fill="#111" stroke="#111" stroke-width="0.22">TE-1</text>
<line x1="247.5" y1="363.8" x2="362.5" y2="363.8" stroke="#6a6a6a" stroke-width="0.9"/>
<text x="260" y="372.6" font-size="6.7" text-anchor="middle" fill="#111" stroke="#111" stroke-width="0.22">Vector</text>
<text x="352" y="372.6" font-size="6.7" text-anchor="middle" fill="#111" stroke="#111" stroke-width="0.22">PLCE1</text>
<line x1="220" y1="375" x2="299.5" y2="375" stroke="#6a6a6a" stroke-width="0.9"/>
<line x1="312" y1="375" x2="392" y2="375" stroke="#6a6a6a" stroke-width="0.9"/>
<text x="209.8" y="385.6" font-size="6.85" text-anchor="end" fill="#111" stroke="#111" stroke-width="0.22">CHX time (h)</text>
<text x="220.9" y="385.6" font-size="6.7" text-anchor="middle" fill="#111" stroke="#111" stroke-width="0.22">0</text>
<text x="232.8" y="385.6" font-size="6.7" text-anchor="middle" fill="#111" stroke="#111" stroke-width="0.22">0.5</text>
<text x="247" y="385.6" font-size="6.7" text-anchor="middle" fill="#111" stroke="#111" stroke-width="0.22">1</text>
<text x="260.4" y="385.6" font-size="6.7" text-anchor="middle" fill="#111" stroke="#111" stroke-width="0.22">1.5</text>
<text x="275.7" y="385.6" font-size="6.7" text-anchor="middle" fill="#111" stroke="#111" stroke-width="0.22">2</text>
<text x="288.1" y="385.6" font-size="6.7" text-anchor="middle" fill="#111" stroke="#111" stroke-width="0.22">2.5</text>
<text x="300" y="385.6" font-size="6.7" text-anchor="middle" fill="#111" stroke="#111" stroke-width="0.22">3</text>
<text x="312.6" y="385.6" font-size="6.7" text-anchor="middle" fill="#111" stroke="#111" stroke-width="0.22">0</text>
<text x="325.9" y="385.6" font-size="6.7" text-anchor="middle" fill="#111" stroke="#111" stroke-width="0.22">0.5</text>
<text x="339.2" y="385.6" font-size="6.7" text-anchor="middle" fill="#111" stroke="#111" stroke-width="0.22">1</text>
<text x="352.6" y="385.6" font-size="6.7" text-anchor="middle" fill="#111" stroke="#111" stroke-width="0.22">1.5</text>
<text x="365.5" y="385.6" font-size="6.7" text-anchor="middle" fill="#111" stroke="#111" stroke-width="0.22">2</text>
<text x="378.3" y="385.6" font-size="6.7" text-anchor="middle" fill="#111" stroke="#111" stroke-width="0.22">2.5</text>
<text x="389.8" y="385.6" font-size="6.7" text-anchor="middle" fill="#111" stroke="#111" stroke-width="0.22">3</text>
<text x="210.2" y="394.6" font-size="6.6" text-anchor="end" fill="#111" stroke="#111" stroke-width="0.22">PLCE1</text>
<text x="210.2" y="404.65" font-size="6.6" text-anchor="end" fill="#111" stroke="#111" stroke-width="0.22">p53</text>
<text x="210.2" y="414.1" font-size="6.6" text-anchor="end" fill="#111" stroke="#111" stroke-width="0.22">GAPDH</text>
<rect x="214.8" y="387.6" width="89.8" height="8.3" fill="#c6c6c6"/>
<g filter="url(#bl)">
<rect x="215.33" y="390.64" width="11.78" height="2.22" rx="2" ry="1.11" fill="#717171"/>
<rect x="228.15" y="390.24" width="11.78" height="3.02" rx="2.71" ry="1.51" fill="#1a1a1a"/>
<rect x="240.98" y="390.16" width="11.78" height="3.17" rx="2.86" ry="1.59" fill="#0e0e0e"/>
<rect x="253.81" y="390.24" width="11.78" height="3.02" rx="2.71" ry="1.51" fill="#1a1a1a"/>
<rect x="266.64" y="390.24" width="11.78" height="3.02" rx="2.71" ry="1.51" fill="#1a1a1a"/>
<rect x="279.47" y="390.24" width="11.78" height="3.02" rx="2.71" ry="1.51" fill="#1a1a1a"/>
<rect x="292.3" y="390.48" width="11.78" height="2.54" rx="2.29" ry="1.27" fill="#4e4e4e"/>
</g>
<rect x="214.8" y="387.6" width="89.8" height="8.3" fill="none" stroke="#5a5a5a" stroke-width="0.7"/>
<rect x="214.8" y="397.6" width="89.8" height="8.4" fill="#cccccc"/>
<g filter="url(#bl)">
<rect x="215.33" y="400.02" width="11.78" height="3.57" rx="3.21" ry="1.78" fill="#0e0e0e"/>
<rect x="228.15" y="400.1" width="11.78" height="3.39" rx="3.05" ry="1.7" fill="#1a1a1a"/>
<rect x="240.98" y="400.15" width="11.78" height="3.3" rx="2.97" ry="1.65" fill="#232323"/>
<rect x="253.81" y="400.46" width="11.78" height="2.68" rx="2.41" ry="1.34" fill="#636363"/>
<rect x="266.64" y="400.46" width="11.78" height="2.68" rx="2.41" ry="1.34" fill="#636363"/>
<rect x="279.47" y="400.73" width="11.78" height="2.14" rx="1.93" ry="1.07" fill="#999999"/>
<rect x="292.3" y="400.73" width="11.78" height="2.14" rx="1.93" ry="1.07" fill="#999999"/>
</g>
<rect x="214.8" y="397.6" width="89.8" height="8.4" fill="none" stroke="#5a5a5a" stroke-width="0.7"/>
<rect x="214.8" y="407.6" width="89.8" height="7.3" fill="#bdbdbd"/>
<g filter="url(#bl)">
<rect x="214.8" y="409.23" width="12.83" height="4.03" rx="3.63" ry="2.02" fill="#0e0e0e"/>
<rect x="227.63" y="409.23" width="12.83" height="4.03" rx="3.63" ry="2.02" fill="#0e0e0e"/>
<rect x="240.46" y="409.23" width="12.83" height="4.03" rx="3.63" ry="2.02" fill="#0e0e0e"/>
<rect x="253.29" y="409.23" width="12.83" height="4.03" rx="3.63" ry="2.02" fill="#0e0e0e"/>
<rect x="266.11" y="409.23" width="12.83" height="4.03" rx="3.63" ry="2.02" fill="#0e0e0e"/>
<rect x="278.94" y="409.23" width="12.83" height="4.03" rx="3.63" ry="2.02" fill="#0e0e0e"/>
<rect x="291.77" y="409.23" width="12.83" height="4.03" rx="3.63" ry="2.02" fill="#0e0e0e"/>
</g>
<rect x="214.8" y="407.6" width="89.8" height="7.3" fill="none" stroke="#5a5a5a" stroke-width="0.7"/>
<rect x="305.8" y="387.6" width="90.4" height="8.3" fill="#a8a8a8"/>
<g filter="url(#bl)">
<rect x="305.8" y="389.63" width="12.91" height="4.23" rx="3.81" ry="2.12" fill="#535353"/>
<rect x="318.71" y="388.93" width="12.91" height="5.64" rx="5.08" ry="2.82" fill="#0e0e0e"/>
<rect x="331.63" y="388.93" width="12.91" height="5.64" rx="5.08" ry="2.82" fill="#0e0e0e"/>
<rect x="344.54" y="389" width="12.91" height="5.5" rx="4.95" ry="2.75" fill="#111111"/>
<rect x="357.46" y="388.93" width="12.91" height="5.64" rx="5.08" ry="2.82" fill="#0e0e0e"/>
<rect x="370.37" y="388.93" width="12.91" height="5.64" rx="5.08" ry="2.82" fill="#0e0e0e"/>
<rect x="383.29" y="388.93" width="12.91" height="5.64" rx="5.08" ry="2.82" fill="#0e0e0e"/>
</g>
<rect x="305.8" y="387.6" width="90.4" height="8.3" fill="none" stroke="#5a5a5a" stroke-width="0.7"/>
<rect x="305.8" y="397.6" width="90.4" height="8.4" fill="#d0d0d0"/>
<g filter="url(#bl)">
<rect x="305.29" y="400.19" width="11.93" height="3.21" rx="2.89" ry="1.61" fill="#0e0e0e"/>
<rect x="318.9" y="400.92" width="12.55" height="1.77" rx="1.59" ry="0.88" fill="#aeaeae"/>
<rect x="331.81" y="400.92" width="12.55" height="1.77" rx="1.59" ry="0.88" fill="#aeaeae"/>
<rect x="344.72" y="400.9" width="12.55" height="1.8" rx="1.62" ry="0.9" fill="#aaaaaa"/>
<rect x="357.64" y="400.93" width="12.55" height="1.74" rx="1.56" ry="0.87" fill="#b2b2b2"/>
<rect x="370.55" y="400.93" width="12.55" height="1.74" rx="1.56" ry="0.87" fill="#b2b2b2"/>
<rect x="383.47" y="400.93" width="12.55" height="1.74" rx="1.56" ry="0.87" fill="#b2b2b2"/>
</g>
<rect x="305.8" y="397.6" width="90.4" height="8.4" fill="none" stroke="#5a5a5a" stroke-width="0.7"/>
<rect x="305.8" y="407.6" width="90.4" height="7.3" fill="#c4c4c4"/>
<g filter="url(#bl)">
<rect x="305.8" y="409.74" width="12.91" height="3.02" rx="2.72" ry="1.51" fill="#111111"/>
<rect x="318.71" y="409.74" width="12.91" height="3.02" rx="2.72" ry="1.51" fill="#111111"/>
<rect x="331.63" y="409.74" width="12.91" height="3.02" rx="2.72" ry="1.51" fill="#111111"/>
<rect x="344.54" y="409.74" width="12.91" height="3.02" rx="2.72" ry="1.51" fill="#111111"/>
<rect x="357.46" y="409.74" width="12.91" height="3.02" rx="2.72" ry="1.51" fill="#111111"/>
<rect x="370.37" y="409.74" width="12.91" height="3.02" rx="2.72" ry="1.51" fill="#111111"/>
<rect x="383.29" y="409.74" width="12.91" height="3.02" rx="2.72" ry="1.51" fill="#111111"/>
</g>
<rect x="305.8" y="407.6" width="90.4" height="7.3" fill="none" stroke="#5a5a5a" stroke-width="0.7"/>
<line x1="436.4" y1="219.9" x2="436.4" y2="267.9" stroke="#444" stroke-width="0.8"/>
<line x1="436.4" y1="267.6" x2="489.9" y2="267.6" stroke="#444" stroke-width="0.8"/>
<line x1="434.9" y1="267.6" x2="436.4" y2="267.6" stroke="#444" stroke-width="0.7"/>
<text x="433.8" y="270" font-size="6.6" text-anchor="end" fill="#111" stroke="#111" stroke-width="0.22">0.0</text>
<line x1="434.9" y1="251.8" x2="436.4" y2="251.8" stroke="#444" stroke-width="0.7"/>
<text x="433.8" y="254.2" font-size="6.6" text-anchor="end" fill="#111" stroke="#111" stroke-width="0.22">0.5</text>
<line x1="434.9" y1="236" x2="436.4" y2="236" stroke="#444" stroke-width="0.7"/>
<text x="433.8" y="238.4" font-size="6.6" text-anchor="end" fill="#111" stroke="#111" stroke-width="0.22">1.0</text>
<line x1="434.9" y1="220.2" x2="436.4" y2="220.2" stroke="#444" stroke-width="0.7"/>
<text x="433.8" y="222.6" font-size="6.6" text-anchor="end" fill="#111" stroke="#111" stroke-width="0.22">1.5</text>
<line x1="436.4" y1="267.6" x2="436.4" y2="268.9" stroke="#444" stroke-width="0.6"/>
<line x1="443.9" y1="267.6" x2="443.9" y2="268.9" stroke="#444" stroke-width="0.6"/>
<line x1="451.4" y1="267.6" x2="451.4" y2="268.9" stroke="#444" stroke-width="0.6"/>
<line x1="458.9" y1="267.6" x2="458.9" y2="268.9" stroke="#444" stroke-width="0.6"/>
<line x1="466.4" y1="267.6" x2="466.4" y2="268.9" stroke="#444" stroke-width="0.6"/>
<line x1="473.9" y1="267.6" x2="473.9" y2="268.9" stroke="#444" stroke-width="0.6"/>
<line x1="481.4" y1="267.6" x2="481.4" y2="268.9" stroke="#444" stroke-width="0.6"/>
<line x1="488.9" y1="267.6" x2="488.9" y2="268.9" stroke="#444" stroke-width="0.6"/>
<text x="418.9" y="243.9" font-size="6.6" text-anchor="middle" fill="#111" stroke="#111" stroke-width="0.22" transform="rotate(-90 418.9 243.9)">p53 remaining (%)</text>
<text x="433.4" y="277.9" font-size="6.3" text-anchor="end" fill="#111" stroke="#111" stroke-width="0.22">Time (h)</text>
<text x="436.6" y="277.9" font-size="6.6" text-anchor="middle" fill="#111" stroke="#111" stroke-width="0.22">0</text>
<text x="451.4" y="277.9" font-size="6.6" text-anchor="middle" fill="#111" stroke="#111" stroke-width="0.22">1.0</text>
<text x="466.4" y="277.9" font-size="6.6" text-anchor="middle" fill="#111" stroke="#111" stroke-width="0.22">2.0</text>
<text x="481.4" y="277.9" font-size="6.6" text-anchor="middle" fill="#111" stroke="#111" stroke-width="0.22">3.0</text>
<polyline points="436.4,236 443.9,254.96 451.4,255.91 458.9,266.02 466.4,266.65 473.9,267.6 481.4,267.6 488.9,267.6" fill="none" stroke="#d8343c" stroke-width="1.15"/>
<circle cx="436.4" cy="236" r="1.35" fill="#d8343c"/>
<circle cx="443.9" cy="254.96" r="1.35" fill="#d8343c"/>
<circle cx="451.4" cy="255.91" r="1.35" fill="#d8343c"/>
<circle cx="458.9" cy="266.02" r="1.35" fill="#d8343c"/>
<circle cx="466.4" cy="266.65" r="1.35" fill="#d8343c"/>
<circle cx="473.9" cy="267.6" r="1.35" fill="#d8343c"/>
<circle cx="481.4" cy="267.6" r="1.35" fill="#d8343c"/>
<circle cx="488.9" cy="267.6" r="1.35" fill="#d8343c"/>
<polyline points="436.4,236 443.9,236.32 451.4,237.58 458.9,242.95 466.4,246.11 473.9,250.22 481.4,253.38 488.9,259.07" fill="none" stroke="#2a8a34" stroke-width="1.15"/>
<circle cx="436.4" cy="236" r="1.35" fill="#2a8a34"/>
<circle cx="443.9" cy="236.32" r="1.35" fill="#2a8a34"/>
<circle cx="451.4" cy="237.58" r="1.35" fill="#2a8a34"/>
<circle cx="458.9" cy="242.95" r="1.35" fill="#2a8a34"/>
<circle cx="466.4" cy="246.11" r="1.35" fill="#2a8a34"/>
<circle cx="473.9" cy="250.22" r="1.35" fill="#2a8a34"/>
<circle cx="481.4" cy="253.38" r="1.35" fill="#2a8a34"/>
<circle cx="488.9" cy="259.07" r="1.35" fill="#2a8a34"/>
<text x="443.9" y="234.12" font-size="5.6" text-anchor="middle" fill="#222" stroke="#222" stroke-width="0.06">**</text>
<text x="451.4" y="235.38" font-size="5.6" text-anchor="middle" fill="#222" stroke="#222" stroke-width="0.06">*</text>
<text x="458.9" y="240.75" font-size="5.6" text-anchor="middle" fill="#222" stroke="#222" stroke-width="0.06">**</text>
<text x="466.4" y="243.91" font-size="5.6" text-anchor="middle" fill="#222" stroke="#222" stroke-width="0.06">**</text>
<text x="473.9" y="248.02" font-size="5.6" text-anchor="middle" fill="#222" stroke="#222" stroke-width="0.06">***</text>
<text x="481.4" y="251.18" font-size="5.6" text-anchor="middle" fill="#222" stroke="#222" stroke-width="0.06">***</text>
<text x="488.9" y="256.87" font-size="5.6" text-anchor="middle" fill="#222" stroke="#222" stroke-width="0.06">*</text>
<line x1="450.2" y1="219.8" x2="464.4" y2="219.8" stroke="#d8343c" stroke-width="1"/>
<circle cx="457.3" cy="219.8" r="1.1" fill="#d8343c"/>
<text x="468.2" y="222.2" font-size="6.7" fill="#111" stroke="#111" stroke-width="0.22">sh-ctrl</text>
<line x1="450.2" y1="226.2" x2="464.4" y2="226.2" stroke="#2a8a34" stroke-width="1"/>
<circle cx="457.3" cy="226.2" r="1.1" fill="#2a8a34"/>
<text x="468.2" y="228.6" font-size="6.7" fill="#111" stroke="#111" stroke-width="0.22">shR-PLCE1</text>
<line x1="437.5" y1="293.5" x2="437.5" y2="341.2" stroke="#444" stroke-width="0.8"/>
<line x1="437.5" y1="340.9" x2="491" y2="340.9" stroke="#444" stroke-width="0.8"/>
<line x1="436" y1="340.9" x2="437.5" y2="340.9" stroke="#444" stroke-width="0.7"/>
<text x="434.9" y="343.3" font-size="6.6" text-anchor="end" fill="#111" stroke="#111" stroke-width="0.22">0.0</text>
<line x1="436" y1="325.2" x2="437.5" y2="325.2" stroke="#444" stroke-width="0.7"/>
<text x="434.9" y="327.6" font-size="6.6" text-anchor="end" fill="#111" stroke="#111" stroke-width="0.22">0.5</text>
<line x1="436" y1="309.5" x2="437.5" y2="309.5" stroke="#444" stroke-width="0.7"/>
<text x="434.9" y="311.9" font-size="6.6" text-anchor="end" fill="#111" stroke="#111" stroke-width="0.22">1.0</text>
<line x1="436" y1="293.8" x2="437.5" y2="293.8" stroke="#444" stroke-width="0.7"/>
<text x="434.9" y="296.2" font-size="6.6" text-anchor="end" fill="#111" stroke="#111" stroke-width="0.22">1.5</text>
<line x1="437.5" y1="340.9" x2="437.5" y2="342.2" stroke="#444" stroke-width="0.6"/>
<line x1="445" y1="340.9" x2="445" y2="342.2" stroke="#444" stroke-width="0.6"/>
<line x1="452.5" y1="340.9" x2="452.5" y2="342.2" stroke="#444" stroke-width="0.6"/>
<line x1="460" y1="340.9" x2="460" y2="342.2" stroke="#444" stroke-width="0.6"/>
<line x1="467.5" y1="340.9" x2="467.5" y2="342.2" stroke="#444" stroke-width="0.6"/>
<line x1="475" y1="340.9" x2="475" y2="342.2" stroke="#444" stroke-width="0.6"/>
<line x1="482.5" y1="340.9" x2="482.5" y2="342.2" stroke="#444" stroke-width="0.6"/>
<line x1="490" y1="340.9" x2="490" y2="342.2" stroke="#444" stroke-width="0.6"/>
<text x="419.5" y="317.35" font-size="6.6" text-anchor="middle" fill="#111" stroke="#111" stroke-width="0.22" transform="rotate(-90 419.5 317.35)">p53 remaining (%)</text>
<text x="434.5" y="351.2" font-size="6.3" text-anchor="end" fill="#111" stroke="#111" stroke-width="0.22">Time (h)</text>
<text x="437.7" y="351.2" font-size="6.6" text-anchor="middle" fill="#111" stroke="#111" stroke-width="0.22">0</text>
<text x="452.5" y="351.2" font-size="6.6" text-anchor="middle" fill="#111" stroke="#111" stroke-width="0.22">1.0</text>
<text x="467.5" y="351.2" font-size="6.6" text-anchor="middle" fill="#111" stroke="#111" stroke-width="0.22">2.0</text>
<text x="482.5" y="351.2" font-size="6.6" text-anchor="middle" fill="#111" stroke="#111" stroke-width="0.22">3.0</text>
<polyline points="437.5,309.5 445,331.48 452.5,336.19 460,339.33 467.5,340.9 475,340.9 482.5,340.9 490,340.9" fill="none" stroke="#d8343c" stroke-width="1.15"/>
<circle cx="437.5" cy="309.5" r="1.35" fill="#d8343c"/>
<circle cx="445" cy="331.48" r="1.35" fill="#d8343c"/>
<circle cx="452.5" cy="336.19" r="1.35" fill="#d8343c"/>
<circle cx="460" cy="339.33" r="1.35" fill="#d8343c"/>
<circle cx="467.5" cy="340.9" r="1.35" fill="#d8343c"/>
<circle cx="475" cy="340.9" r="1.35" fill="#d8343c"/>
<circle cx="482.5" cy="340.9" r="1.35" fill="#d8343c"/>
<circle cx="490" cy="340.9" r="1.35" fill="#d8343c"/>
<polyline points="437.5,309.5 445,312.64 452.5,312.64 460,312.64 467.5,317.98 475,324.26 482.5,329.91 490,331.48" fill="none" stroke="#2a8a34" stroke-width="1.15"/>
<circle cx="437.5" cy="309.5" r="1.35" fill="#2a8a34"/>
<circle cx="445" cy="312.64" r="1.35" fill="#2a8a34"/>
<circle cx="452.5" cy="312.64" r="1.35" fill="#2a8a34"/>
<circle cx="460" cy="312.64" r="1.35" fill="#2a8a34"/>
<circle cx="467.5" cy="317.98" r="1.35" fill="#2a8a34"/>
<circle cx="475" cy="324.26" r="1.35" fill="#2a8a34"/>
<circle cx="482.5" cy="329.91" r="1.35" fill="#2a8a34"/>
<circle cx="490" cy="331.48" r="1.35" fill="#2a8a34"/>
<text x="445" y="309.81" font-size="5.6" text-anchor="middle" fill="#222" stroke="#222" stroke-width="0.06">*</text>
<text x="452.5" y="309.81" font-size="5.6" text-anchor="middle" fill="#222" stroke="#222" stroke-width="0.06">**</text>
<text x="460" y="309.81" font-size="5.6" text-anchor="middle" fill="#222" stroke="#222" stroke-width="0.06">**</text>
<text x="467.5" y="314.21" font-size="5.6" text-anchor="middle" fill="#222" stroke="#222" stroke-width="0.06">**</text>
<text x="475" y="319.86" font-size="5.6" text-anchor="middle" fill="#222" stroke="#222" stroke-width="0.06">*</text>
<text x="482.5" y="325.83" font-size="5.6" text-anchor="middle" fill="#222" stroke="#222" stroke-width="0.06">*</text>
<text x="490" y="327.71" font-size="5.6" text-anchor="middle" fill="#222" stroke="#222" stroke-width="0.06">*</text>
<line x1="449" y1="293.8" x2="463.2" y2="293.8" stroke="#d8343c" stroke-width="1"/>
<circle cx="456.1" cy="293.8" r="1.1" fill="#d8343c"/>
<text x="467" y="296.2" font-size="6.7" fill="#111" stroke="#111" stroke-width="0.22">sh-ctrl</text>
<line x1="449" y1="300.1" x2="463.2" y2="300.1" stroke="#2a8a34" stroke-width="1"/>
<circle cx="456.1" cy="300.1" r="1.1" fill="#2a8a34"/>
<text x="467" y="302.5" font-size="6.7" fill="#111" stroke="#111" stroke-width="0.22">shR-PLCE1</text>
<line x1="437.1" y1="366.1" x2="437.1" y2="413.8" stroke="#444" stroke-width="0.8"/>
<line x1="437.1" y1="413.5" x2="489.1" y2="413.5" stroke="#444" stroke-width="0.8"/>
<line x1="435.6" y1="413.5" x2="437.1" y2="413.5" stroke="#444" stroke-width="0.7"/>
<text x="434.5" y="415.9" font-size="6.6" text-anchor="end" fill="#111" stroke="#111" stroke-width="0.22">0.0</text>
<line x1="435.6" y1="397.8" x2="437.1" y2="397.8" stroke="#444" stroke-width="0.7"/>
<text x="434.5" y="400.2" font-size="6.6" text-anchor="end" fill="#111" stroke="#111" stroke-width="0.22">0.5</text>
<line x1="435.6" y1="382.1" x2="437.1" y2="382.1" stroke="#444" stroke-width="0.7"/>
<text x="434.5" y="384.5" font-size="6.6" text-anchor="end" fill="#111" stroke="#111" stroke-width="0.22">1.0</text>
<line x1="435.6" y1="366.4" x2="437.1" y2="366.4" stroke="#444" stroke-width="0.7"/>
<text x="434.5" y="368.8" font-size="6.6" text-anchor="end" fill="#111" stroke="#111" stroke-width="0.22">1.5</text>
<line x1="437.1" y1="413.5" x2="437.1" y2="414.8" stroke="#444" stroke-width="0.6"/>
<line x1="445.6" y1="413.5" x2="445.6" y2="414.8" stroke="#444" stroke-width="0.6"/>
<line x1="454.1" y1="413.5" x2="454.1" y2="414.8" stroke="#444" stroke-width="0.6"/>
<line x1="462.6" y1="413.5" x2="462.6" y2="414.8" stroke="#444" stroke-width="0.6"/>
<line x1="471.1" y1="413.5" x2="471.1" y2="414.8" stroke="#444" stroke-width="0.6"/>
<line x1="479.6" y1="413.5" x2="479.6" y2="414.8" stroke="#444" stroke-width="0.6"/>
<line x1="488.1" y1="413.5" x2="488.1" y2="414.8" stroke="#444" stroke-width="0.6"/>
<text x="419.2" y="389.95" font-size="6.6" text-anchor="middle" fill="#111" stroke="#111" stroke-width="0.22" transform="rotate(-90 419.2 389.95)">p53 remaining (%)</text>
<text x="434.1" y="423.8" font-size="6.3" text-anchor="end" fill="#111" stroke="#111" stroke-width="0.22">Time (h)</text>
<text x="437.3" y="423.8" font-size="6.6" text-anchor="middle" fill="#111" stroke="#111" stroke-width="0.22">0</text>
<text x="454.1" y="423.8" font-size="6.6" text-anchor="middle" fill="#111" stroke="#111" stroke-width="0.22">1.0</text>
<text x="471.1" y="423.8" font-size="6.6" text-anchor="middle" fill="#111" stroke="#111" stroke-width="0.22">2.0</text>
<text x="488.1" y="423.8" font-size="6.6" text-anchor="middle" fill="#111" stroke="#111" stroke-width="0.22">3.0</text>
<polyline points="437.1,382.1 445.6,407.22 454.1,407.22 462.6,407.22 471.1,408.79 479.6,408.79 488.1,408.79" fill="none" stroke="#d8343c" stroke-width="1.15"/>
<circle cx="437.1" cy="382.1" r="1.35" fill="#d8343c"/>
<circle cx="445.6" cy="407.22" r="1.35" fill="#d8343c"/>
<circle cx="454.1" cy="407.22" r="1.35" fill="#d8343c"/>
<circle cx="462.6" cy="407.22" r="1.35" fill="#d8343c"/>
<circle cx="471.1" cy="408.79" r="1.35" fill="#d8343c"/>
<circle cx="479.6" cy="408.79" r="1.35" fill="#d8343c"/>
<circle cx="488.1" cy="408.79" r="1.35" fill="#d8343c"/>
<polyline points="437.1,382.1 445.6,386.18 454.1,392.15 462.6,400 471.1,400.31 479.6,405.02 488.1,405.02" fill="none" stroke="#2a8a34" stroke-width="1.15"/>
<circle cx="437.1" cy="382.1" r="1.35" fill="#2a8a34"/>
<circle cx="445.6" cy="386.18" r="1.35" fill="#2a8a34"/>
<circle cx="454.1" cy="392.15" r="1.35" fill="#2a8a34"/>
<circle cx="462.6" cy="400" r="1.35" fill="#2a8a34"/>
<circle cx="471.1" cy="400.31" r="1.35" fill="#2a8a34"/>
<circle cx="479.6" cy="405.02" r="1.35" fill="#2a8a34"/>
<circle cx="488.1" cy="405.02" r="1.35" fill="#2a8a34"/>
<text x="445.6" y="383.98" font-size="5.6" text-anchor="middle" fill="#222" stroke="#222" stroke-width="0.06">**</text>
<text x="454.1" y="389.95" font-size="5.6" text-anchor="middle" fill="#222" stroke="#222" stroke-width="0.06">**</text>
<text x="462.6" y="397.8" font-size="5.6" text-anchor="middle" fill="#222" stroke="#222" stroke-width="0.06">**</text>
<text x="471.1" y="398.11" font-size="5.6" text-anchor="middle" fill="#222" stroke="#222" stroke-width="0.06">*</text>
<text x="479.6" y="402.82" font-size="5.6" text-anchor="middle" fill="#222" stroke="#222" stroke-width="0.06">*</text>
<text x="488.1" y="402.82" font-size="5.6" text-anchor="middle" fill="#222" stroke="#222" stroke-width="0.06">*</text>
<line x1="451.3" y1="365.2" x2="465.5" y2="365.2" stroke="#2a8a34" stroke-width="1"/>
<circle cx="458.4" cy="365.2" r="1.1" fill="#2a8a34"/>
<text x="469.3" y="367.6" font-size="6.7" fill="#111" stroke="#111" stroke-width="0.22">Vector</text>
<line x1="451.3" y1="373.7" x2="465.5" y2="373.7" stroke="#d8343c" stroke-width="1"/>
<circle cx="458.4" cy="373.7" r="1.1" fill="#d8343c"/>
<text x="469.3" y="376.1" font-size="6.7" fill="#111" stroke="#111" stroke-width="0.22">PLCE1</text></svg>
</body></html>
